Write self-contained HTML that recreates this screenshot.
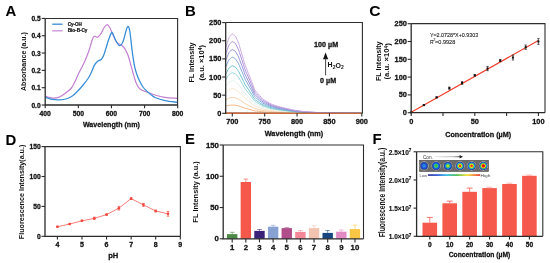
<!DOCTYPE html><html><head><meta charset="utf-8"><style>html,body{margin:0;padding:0;background:#fff;width:550px;height:263px;overflow:hidden}svg{display:block;will-change:transform}</style></head><body><svg width="550" height="263" viewBox="0 0 550 263" font-family="Liberation Sans, sans-serif">
<rect width="550" height="263" fill="#fff"/>
<text transform="translate(5.60,15.80) scale(1.050,1)" font-size="14.2" font-weight="bold" fill="#000" stroke="#000" stroke-width="0.05">A</text>
<g clip-path="none">
<path d="M45.60,96.30 C46.33,96.52 48.43,97.30 50.00,97.60 C51.57,97.90 53.33,98.23 55.00,98.10 C56.67,97.97 58.33,97.57 60.00,96.80 C61.67,96.03 63.10,94.97 65.00,93.50 C66.90,92.03 69.68,90.08 71.40,88.00 C73.12,85.92 74.03,83.53 75.30,81.00 C76.57,78.47 77.43,76.07 79.00,72.80 C80.57,69.53 83.00,65.20 84.70,61.40 C86.40,57.60 88.03,53.32 89.20,50.00 C90.37,46.68 90.95,43.73 91.70,41.50 C92.45,39.27 92.98,37.42 93.70,36.60 C94.42,35.78 95.28,36.52 96.00,36.60 C96.72,36.68 97.17,37.62 98.00,37.10 C98.83,36.58 99.92,35.18 101.00,33.50 C102.08,31.82 103.43,28.48 104.50,27.00 C105.57,25.52 106.48,24.43 107.40,24.60 C108.32,24.77 109.15,26.48 110.00,28.00 C110.85,29.52 111.37,31.32 112.50,33.70 C113.63,36.08 115.38,40.45 116.80,42.30 C118.22,44.15 119.88,44.02 121.00,44.80 C122.12,45.58 122.73,46.13 123.50,47.00 C124.27,47.87 124.80,48.50 125.60,50.00 C126.40,51.50 127.43,53.50 128.30,56.00 C129.17,58.50 129.98,62.08 130.80,65.00 C131.62,67.92 132.37,70.67 133.20,73.50 C134.03,76.33 134.92,79.70 135.80,82.00 C136.68,84.30 137.47,85.93 138.50,87.30 C139.53,88.67 140.52,89.38 142.00,90.20 C143.48,91.02 145.23,91.40 147.40,92.20 C149.57,93.00 152.07,94.15 155.00,95.00 C157.93,95.85 161.30,96.75 165.00,97.30 C168.70,97.85 175.17,98.13 177.20,98.30" fill="none" stroke="#c47fd1" stroke-width="1.2"/>
<path d="M45.60,97.30 C46.33,97.55 48.43,98.42 50.00,98.80 C51.57,99.18 53.30,99.42 55.00,99.60 C56.70,99.78 58.37,100.00 60.20,99.90 C62.03,99.80 63.98,99.65 66.00,99.00 C68.02,98.35 70.47,97.20 72.30,96.00 C74.13,94.80 75.33,93.47 77.00,91.80 C78.67,90.13 80.40,88.30 82.30,86.00 C84.20,83.70 86.87,80.33 88.40,78.00 C89.93,75.67 90.50,74.15 91.50,72.00 C92.50,69.85 93.40,66.85 94.40,65.10 C95.40,63.35 96.33,62.48 97.50,61.50 C98.67,60.52 100.35,60.28 101.40,59.20 C102.45,58.12 103.08,56.68 103.80,55.00 C104.52,53.32 104.92,51.60 105.70,49.10 C106.48,46.60 107.50,42.75 108.50,40.00 C109.50,37.25 110.78,33.18 111.70,32.60 C112.62,32.02 113.28,35.10 114.00,36.50 C114.72,37.90 115.12,39.48 116.00,41.00 C116.88,42.52 118.33,45.10 119.30,45.60 C120.27,46.10 121.03,45.10 121.80,44.00 C122.57,42.90 123.20,41.17 123.90,39.00 C124.60,36.83 125.33,33.08 126.00,31.00 C126.67,28.92 127.27,26.50 127.90,26.50 C128.53,26.50 129.10,27.02 129.80,31.00 C130.50,34.98 131.33,44.63 132.10,50.40 C132.87,56.17 133.62,61.63 134.40,65.60 C135.18,69.57 135.93,71.63 136.80,74.20 C137.67,76.77 138.57,78.87 139.60,81.00 C140.63,83.13 141.85,85.35 143.00,87.00 C144.15,88.65 145.17,89.62 146.50,90.90 C147.83,92.18 149.58,93.60 151.00,94.70 C152.42,95.80 152.67,96.52 155.00,97.50 C157.33,98.48 161.30,99.80 165.00,100.60 C168.70,101.40 175.17,102.02 177.20,102.30" fill="none" stroke="#3a8fd8" stroke-width="1.3"/>
</g>
<path d="M45.20,18.50 H177.60 V105.00" fill="none" stroke="#2e2e2e" stroke-width="1.10"/>
<path d="M45.20,18.50 V105.00 H177.60" fill="none" stroke="#2b2b2b" stroke-width="1.30"/>
<line x1="41.70" y1="105.00" x2="45.20" y2="105.00" stroke="#2b2b2b" stroke-width="1.1"/>
<text x="40.60" y="105.00" font-size="6.60" font-weight="bold" text-anchor="end" dominant-baseline="central" fill="#111"  stroke="#111" stroke-width="0.28">0.0</text>
<line x1="41.70" y1="87.68" x2="45.20" y2="87.68" stroke="#2b2b2b" stroke-width="1.1"/>
<text x="40.60" y="87.68" font-size="6.60" font-weight="bold" text-anchor="end" dominant-baseline="central" fill="#111"  stroke="#111" stroke-width="0.28">0.1</text>
<line x1="41.70" y1="70.36" x2="45.20" y2="70.36" stroke="#2b2b2b" stroke-width="1.1"/>
<text x="40.60" y="70.36" font-size="6.60" font-weight="bold" text-anchor="end" dominant-baseline="central" fill="#111"  stroke="#111" stroke-width="0.28">0.2</text>
<line x1="41.70" y1="53.04" x2="45.20" y2="53.04" stroke="#2b2b2b" stroke-width="1.1"/>
<text x="40.60" y="53.04" font-size="6.60" font-weight="bold" text-anchor="end" dominant-baseline="central" fill="#111"  stroke="#111" stroke-width="0.28">0.3</text>
<line x1="41.70" y1="35.72" x2="45.20" y2="35.72" stroke="#2b2b2b" stroke-width="1.1"/>
<text x="40.60" y="35.72" font-size="6.60" font-weight="bold" text-anchor="end" dominant-baseline="central" fill="#111"  stroke="#111" stroke-width="0.28">0.4</text>
<line x1="41.70" y1="18.40" x2="45.20" y2="18.40" stroke="#2b2b2b" stroke-width="1.1"/>
<text x="40.60" y="18.40" font-size="6.60" font-weight="bold" text-anchor="end" dominant-baseline="central" fill="#111"  stroke="#111" stroke-width="0.28">0.5</text>
<line x1="45.20" y1="105.00" x2="45.20" y2="108.30" stroke="#2b2b2b" stroke-width="1.1"/>
<text x="45.20" y="113.30" font-size="6.80" font-weight="bold" text-anchor="middle" dominant-baseline="central" fill="#111"  stroke="#111" stroke-width="0.28">400</text>
<line x1="78.33" y1="105.00" x2="78.33" y2="108.30" stroke="#2b2b2b" stroke-width="1.1"/>
<text x="78.33" y="113.30" font-size="6.80" font-weight="bold" text-anchor="middle" dominant-baseline="central" fill="#111"  stroke="#111" stroke-width="0.28">500</text>
<line x1="111.45" y1="105.00" x2="111.45" y2="108.30" stroke="#2b2b2b" stroke-width="1.1"/>
<text x="111.45" y="113.30" font-size="6.80" font-weight="bold" text-anchor="middle" dominant-baseline="central" fill="#111"  stroke="#111" stroke-width="0.28">600</text>
<line x1="144.57" y1="105.00" x2="144.57" y2="108.30" stroke="#2b2b2b" stroke-width="1.1"/>
<text x="144.57" y="113.30" font-size="6.80" font-weight="bold" text-anchor="middle" dominant-baseline="central" fill="#111"  stroke="#111" stroke-width="0.28">700</text>
<line x1="177.70" y1="105.00" x2="177.70" y2="108.30" stroke="#2b2b2b" stroke-width="1.1"/>
<text x="177.70" y="113.30" font-size="6.80" font-weight="bold" text-anchor="middle" dominant-baseline="central" fill="#111"  stroke="#111" stroke-width="0.28">800</text>
<text transform="translate(23.40,61.60) rotate(-90)" x="0" y="0" font-size="7.60" font-weight="bold" text-anchor="middle" dominant-baseline="central" fill="#111" textLength="59.0" lengthAdjust="spacingAndGlyphs">Absorbance (a.u.)</text>
<text x="111.40" y="124.50" font-size="7.60" font-weight="bold" text-anchor="middle" dominant-baseline="central" fill="#111" textLength="57.0" lengthAdjust="spacingAndGlyphs"  stroke="#111" stroke-width="0.28">Wavelength (nm)</text>
<line x1="52.2" y1="24.2" x2="62.6" y2="24.2" stroke="#3a8ad4" stroke-width="1.3"/>
<line x1="52.2" y1="30.8" x2="62.6" y2="30.8" stroke="#c890d8" stroke-width="1.3"/>
<text x="67.70" y="24.20" font-size="4.80" font-weight="bold" text-anchor="start" dominant-baseline="central" fill="#111" textLength="14.2" lengthAdjust="spacingAndGlyphs" stroke="#111" stroke-width="0.22">Cy-OH</text>
<text x="67.70" y="30.90" font-size="4.80" font-weight="bold" text-anchor="start" dominant-baseline="central" fill="#111" textLength="19.7" lengthAdjust="spacingAndGlyphs" stroke="#111" stroke-width="0.22">Bio-B-Cy</text>
<text transform="translate(185.10,15.70) scale(1.050,1)" font-size="14.2" font-weight="bold" fill="#000" stroke="#000" stroke-width="0.05">B</text>
<defs><clipPath id="cb"><rect x="225.70" y="22.50" width="136.70" height="91.80"/></clipPath></defs>
<g clip-path="url(#cb)">
<path d="M225.70,113.06 C225.97,113.06 226.77,113.05 227.31,113.04 C227.85,113.04 228.39,113.03 228.93,113.02 C229.47,113.02 230.01,113.02 230.55,113.02 C231.09,113.01 231.63,113.01 232.17,113.01 C232.71,113.01 233.25,113.01 233.79,113.01 C234.33,113.02 234.87,113.02 235.41,113.02 C235.95,113.02 236.49,113.03 237.03,113.03 C237.57,113.04 238.11,113.04 238.65,113.04 C239.19,113.05 239.72,113.06 240.26,113.06 C240.80,113.07 241.34,113.08 241.88,113.08 C242.42,113.09 242.96,113.10 243.50,113.10 C244.04,113.11 244.58,113.12 245.12,113.12 C245.66,113.13 246.20,113.13 246.74,113.14 C247.28,113.14 247.82,113.15 248.36,113.15 C248.90,113.16 249.44,113.16 249.98,113.17 C250.52,113.17 251.06,113.18 251.60,113.18 C252.14,113.19 252.67,113.19 253.21,113.20 C253.75,113.20 254.29,113.21 254.83,113.21 C255.37,113.22 255.91,113.22 256.45,113.22 C256.99,113.22 257.53,113.23 258.07,113.23 C258.61,113.23 259.15,113.23 259.69,113.24 C260.23,113.24 260.77,113.24 261.31,113.24 C261.85,113.24 262.39,113.25 262.93,113.25 C263.47,113.25 264.01,113.25 264.55,113.25 C265.09,113.25 265.62,113.25 266.16,113.26 C266.70,113.26 267.24,113.26 267.78,113.26 C268.32,113.26 268.86,113.26 269.40,113.26 C269.94,113.26 270.48,113.26 271.02,113.27 C271.56,113.27 272.10,113.27 272.64,113.27 C273.18,113.27 273.72,113.27 274.26,113.27 C274.80,113.27 275.34,113.27 275.88,113.27 C276.42,113.27 276.96,113.27 277.50,113.27 C278.04,113.27 278.57,113.28 279.11,113.28 C279.65,113.28 280.19,113.28 280.73,113.28 C281.27,113.28 281.81,113.28 282.35,113.28 C282.89,113.28 283.43,113.28 283.97,113.28 C284.51,113.28 285.05,113.28 285.59,113.28 C286.13,113.28 286.67,113.28 287.21,113.28 C287.75,113.28 288.29,113.28 288.83,113.28 C289.37,113.28 289.91,113.29 290.45,113.29 C290.99,113.29 291.52,113.29 292.06,113.29 C292.60,113.29 293.14,113.29 293.68,113.29 C294.22,113.29 294.76,113.29 295.30,113.29 C295.84,113.29 296.38,113.29 296.92,113.29 C297.46,113.29 298.00,113.29 298.54,113.29 C299.08,113.29 299.62,113.29 300.16,113.29 C300.70,113.29 301.24,113.29 301.78,113.29 C302.32,113.29 302.86,113.29 303.40,113.29 C303.94,113.29 304.47,113.29 305.01,113.29 C305.55,113.29 306.09,113.29 306.63,113.29 C307.17,113.29 307.71,113.29 308.25,113.30 C308.79,113.30 309.33,113.30 309.87,113.30 C310.41,113.30 310.95,113.30 311.49,113.30 C312.03,113.30 312.57,113.30 313.11,113.30 C313.65,113.30 314.19,113.30 314.73,113.30 C315.27,113.30 315.81,113.30 316.35,113.30 C316.89,113.30 317.42,113.30 317.96,113.30 C318.50,113.30 319.04,113.30 319.58,113.30 C320.12,113.30 320.66,113.30 321.20,113.30 C321.74,113.30 322.28,113.30 322.82,113.30 C323.36,113.30 323.90,113.30 324.44,113.30 C324.98,113.30 325.52,113.30 326.06,113.30 C326.60,113.30 327.14,113.30 327.68,113.30 C328.22,113.30 328.76,113.30 329.30,113.30 C329.84,113.30 330.37,113.30 330.91,113.30 C331.45,113.30 331.99,113.30 332.53,113.30 C333.07,113.30 333.61,113.30 334.15,113.30 C334.69,113.30 335.23,113.30 335.77,113.30 C336.31,113.30 336.85,113.30 337.39,113.30 C337.93,113.30 338.47,113.30 339.01,113.30 C339.55,113.30 340.09,113.30 340.63,113.30 C341.17,113.30 341.71,113.30 342.25,113.30 C342.79,113.30 343.32,113.30 343.86,113.30 C344.40,113.30 344.94,113.30 345.48,113.30 C346.02,113.30 346.56,113.30 347.10,113.30 C347.64,113.30 348.18,113.30 348.72,113.30 C349.26,113.30 349.80,113.30 350.34,113.30 C350.88,113.30 351.42,113.30 351.96,113.30 C352.50,113.30 353.04,113.30 353.58,113.30 C354.12,113.30 354.66,113.30 355.20,113.30 C355.74,113.30 356.27,113.30 356.81,113.30 C357.35,113.30 357.89,113.30 358.43,113.30 C358.97,113.30 359.51,113.30 360.05,113.30 C360.59,113.30 361.40,113.30 361.67,113.30" fill="none" stroke="#d9542a" stroke-width="0.95"/>
<path d="M225.70,106.40 C225.97,106.31 226.77,106.06 227.31,105.89 C227.85,105.72 228.39,105.50 228.93,105.37 C229.47,105.25 230.01,105.23 230.55,105.16 C231.09,105.09 231.63,104.99 232.17,104.97 C232.71,104.96 233.25,105.03 233.79,105.07 C234.33,105.11 234.87,105.11 235.41,105.20 C235.95,105.28 236.49,105.44 237.03,105.57 C237.57,105.70 238.11,105.81 238.65,105.97 C239.19,106.12 239.72,106.33 240.26,106.52 C240.80,106.70 241.34,106.89 241.88,107.08 C242.42,107.27 242.96,107.47 243.50,107.66 C244.04,107.86 244.58,108.08 245.12,108.25 C245.66,108.42 246.20,108.54 246.74,108.68 C247.28,108.82 247.82,108.95 248.36,109.09 C248.90,109.24 249.44,109.38 249.98,109.52 C250.52,109.67 251.06,109.82 251.60,109.96 C252.14,110.11 252.67,110.26 253.21,110.40 C253.75,110.55 254.29,110.74 254.83,110.84 C255.37,110.95 255.91,110.99 256.45,111.06 C256.99,111.12 257.53,111.18 258.07,111.25 C258.61,111.31 259.15,111.37 259.69,111.44 C260.23,111.50 260.77,111.57 261.31,111.63 C261.85,111.69 262.39,111.76 262.93,111.81 C263.47,111.86 264.01,111.88 264.55,111.91 C265.09,111.94 265.62,111.98 266.16,112.01 C266.70,112.05 267.24,112.08 267.78,112.11 C268.32,112.15 268.86,112.18 269.40,112.21 C269.94,112.25 270.48,112.29 271.02,112.32 C271.56,112.34 272.10,112.36 272.64,112.38 C273.18,112.40 273.72,112.42 274.26,112.44 C274.80,112.46 275.34,112.48 275.88,112.50 C276.42,112.51 276.96,112.54 277.50,112.55 C278.04,112.57 278.57,112.59 279.11,112.60 C279.65,112.62 280.19,112.63 280.73,112.64 C281.27,112.66 281.81,112.67 282.35,112.69 C282.89,112.70 283.43,112.71 283.97,112.73 C284.51,112.74 285.05,112.75 285.59,112.77 C286.13,112.78 286.67,112.79 287.21,112.81 C287.75,112.82 288.29,112.83 288.83,112.85 C289.37,112.86 289.91,112.88 290.45,112.89 C290.99,112.90 291.52,112.92 292.06,112.93 C292.60,112.94 293.14,112.96 293.68,112.97 C294.22,112.98 294.76,112.98 295.30,112.99 C295.84,113.00 296.38,113.01 296.92,113.01 C297.46,113.02 298.00,113.03 298.54,113.04 C299.08,113.05 299.62,113.05 300.16,113.06 C300.70,113.07 301.24,113.08 301.78,113.09 C302.32,113.09 302.86,113.10 303.40,113.11 C303.94,113.12 304.47,113.13 305.01,113.13 C305.55,113.14 306.09,113.14 306.63,113.15 C307.17,113.15 307.71,113.16 308.25,113.16 C308.79,113.16 309.33,113.17 309.87,113.17 C310.41,113.17 310.95,113.18 311.49,113.18 C312.03,113.18 312.57,113.19 313.11,113.19 C313.65,113.19 314.19,113.20 314.73,113.20 C315.27,113.20 315.81,113.21 316.35,113.21 C316.89,113.21 317.42,113.22 317.96,113.22 C318.50,113.22 319.04,113.23 319.58,113.23 C320.12,113.23 320.66,113.24 321.20,113.24 C321.74,113.24 322.28,113.25 322.82,113.25 C323.36,113.25 323.90,113.25 324.44,113.25 C324.98,113.25 325.52,113.25 326.06,113.26 C326.60,113.26 327.14,113.26 327.68,113.26 C328.22,113.26 328.76,113.26 329.30,113.26 C329.84,113.26 330.37,113.26 330.91,113.27 C331.45,113.27 331.99,113.27 332.53,113.27 C333.07,113.27 333.61,113.27 334.15,113.27 C334.69,113.27 335.23,113.27 335.77,113.27 C336.31,113.28 336.85,113.28 337.39,113.28 C337.93,113.28 338.47,113.28 339.01,113.28 C339.55,113.28 340.09,113.28 340.63,113.28 C341.17,113.29 341.71,113.29 342.25,113.29 C342.79,113.29 343.32,113.29 343.86,113.29 C344.40,113.29 344.94,113.29 345.48,113.29 C346.02,113.29 346.56,113.29 347.10,113.29 C347.64,113.29 348.18,113.29 348.72,113.29 C349.26,113.29 349.80,113.29 350.34,113.29 C350.88,113.29 351.42,113.29 351.96,113.29 C352.50,113.29 353.04,113.29 353.58,113.29 C354.12,113.30 354.66,113.30 355.20,113.30 C355.74,113.30 356.27,113.30 356.81,113.30 C357.35,113.30 357.89,113.30 358.43,113.30 C358.97,113.30 359.51,113.30 360.05,113.30 C360.59,113.30 361.40,113.30 361.67,113.30" fill="none" stroke="#f4b27e" stroke-width="0.95"/>
<path d="M225.70,100.09 C225.97,99.93 226.77,99.46 227.31,99.13 C227.85,98.81 228.39,98.37 228.93,98.13 C229.47,97.90 230.01,97.85 230.55,97.72 C231.09,97.60 231.63,97.39 232.17,97.37 C232.71,97.34 233.25,97.49 233.79,97.56 C234.33,97.63 234.87,97.64 235.41,97.80 C235.95,97.96 236.49,98.27 237.03,98.51 C237.57,98.76 238.11,98.97 238.65,99.27 C239.19,99.57 239.72,99.97 240.26,100.32 C240.80,100.68 241.34,101.04 241.88,101.40 C242.42,101.77 242.96,102.14 243.50,102.52 C244.04,102.89 244.58,103.31 245.12,103.63 C245.66,103.96 246.20,104.19 246.74,104.46 C247.28,104.73 247.82,104.98 248.36,105.25 C248.90,105.52 249.44,105.80 249.98,106.08 C250.52,106.35 251.06,106.64 251.60,106.92 C252.14,107.20 252.67,107.48 253.21,107.76 C253.75,108.04 254.29,108.40 254.83,108.60 C255.37,108.81 255.91,108.88 256.45,109.01 C256.99,109.14 257.53,109.25 258.07,109.37 C258.61,109.49 259.15,109.62 259.69,109.74 C260.23,109.86 260.77,109.99 261.31,110.10 C261.85,110.22 262.39,110.36 262.93,110.45 C263.47,110.54 264.01,110.58 264.55,110.64 C265.09,110.71 265.62,110.77 266.16,110.84 C266.70,110.90 267.24,110.97 267.78,111.03 C268.32,111.09 268.86,111.16 269.40,111.22 C269.94,111.29 270.48,111.36 271.02,111.42 C271.56,111.47 272.10,111.50 272.64,111.54 C273.18,111.57 273.72,111.61 274.26,111.65 C274.80,111.69 275.34,111.72 275.88,111.76 C276.42,111.80 276.96,111.84 277.50,111.87 C278.04,111.91 278.57,111.94 279.11,111.97 C279.65,112.00 280.19,112.02 280.73,112.05 C281.27,112.07 281.81,112.10 282.35,112.12 C282.89,112.15 283.43,112.18 283.97,112.20 C284.51,112.23 285.05,112.25 285.59,112.28 C286.13,112.31 286.67,112.33 287.21,112.36 C287.75,112.38 288.29,112.41 288.83,112.44 C289.37,112.46 289.91,112.49 290.45,112.51 C290.99,112.54 291.52,112.57 292.06,112.59 C292.60,112.62 293.14,112.64 293.68,112.66 C294.22,112.68 294.76,112.69 295.30,112.71 C295.84,112.72 296.38,112.74 296.92,112.75 C297.46,112.77 298.00,112.78 298.54,112.80 C299.08,112.81 299.62,112.83 300.16,112.85 C300.70,112.86 301.24,112.88 301.78,112.89 C302.32,112.91 302.86,112.92 303.40,112.94 C303.94,112.95 304.47,112.97 305.01,112.98 C305.55,113.00 306.09,113.00 306.63,113.01 C307.17,113.02 307.71,113.02 308.25,113.03 C308.79,113.04 309.33,113.04 309.87,113.05 C310.41,113.06 310.95,113.06 311.49,113.07 C312.03,113.07 312.57,113.08 313.11,113.09 C313.65,113.09 314.19,113.10 314.73,113.11 C315.27,113.11 315.81,113.12 316.35,113.13 C316.89,113.13 317.42,113.14 317.96,113.15 C318.50,113.15 319.04,113.16 319.58,113.16 C320.12,113.17 320.66,113.18 321.20,113.18 C321.74,113.19 322.28,113.20 322.82,113.20 C323.36,113.21 323.90,113.21 324.44,113.21 C324.98,113.21 325.52,113.21 326.06,113.22 C326.60,113.22 327.14,113.22 327.68,113.22 C328.22,113.22 328.76,113.23 329.30,113.23 C329.84,113.23 330.37,113.23 330.91,113.23 C331.45,113.24 331.99,113.24 332.53,113.24 C333.07,113.24 333.61,113.24 334.15,113.25 C334.69,113.25 335.23,113.25 335.77,113.25 C336.31,113.25 336.85,113.26 337.39,113.26 C337.93,113.26 338.47,113.26 339.01,113.26 C339.55,113.27 340.09,113.27 340.63,113.27 C341.17,113.27 341.71,113.27 342.25,113.28 C342.79,113.28 343.32,113.28 343.86,113.28 C344.40,113.28 344.94,113.28 345.48,113.28 C346.02,113.28 346.56,113.28 347.10,113.28 C347.64,113.28 348.18,113.28 348.72,113.28 C349.26,113.28 349.80,113.29 350.34,113.29 C350.88,113.29 351.42,113.29 351.96,113.29 C352.50,113.29 353.04,113.29 353.58,113.29 C354.12,113.29 354.66,113.29 355.20,113.29 C355.74,113.29 356.27,113.29 356.81,113.29 C357.35,113.29 357.89,113.30 358.43,113.30 C358.97,113.30 359.51,113.30 360.05,113.30 C360.59,113.30 361.40,113.30 361.67,113.30" fill="none" stroke="#f8cfa4" stroke-width="0.95"/>
<path d="M225.70,92.89 C225.97,92.64 226.77,91.91 227.31,91.41 C227.85,90.90 228.39,90.23 228.93,89.86 C229.47,89.50 230.01,89.43 230.55,89.23 C231.09,89.03 231.63,88.72 232.17,88.67 C232.71,88.63 233.25,88.86 233.79,88.97 C234.33,89.08 234.87,89.09 235.41,89.34 C235.95,89.59 236.49,90.07 237.03,90.45 C237.57,90.83 238.11,91.15 238.65,91.62 C239.19,92.09 239.72,92.70 240.26,93.25 C240.80,93.79 241.34,94.35 241.88,94.91 C242.42,95.48 242.96,96.06 243.50,96.63 C244.04,97.21 244.58,97.86 245.12,98.36 C245.66,98.86 246.20,99.21 246.74,99.63 C247.28,100.05 247.82,100.45 248.36,100.87 C248.90,101.28 249.44,101.71 249.98,102.14 C250.52,102.56 251.06,103.00 251.60,103.44 C252.14,103.87 252.67,104.31 253.21,104.74 C253.75,105.17 254.29,105.72 254.83,106.04 C255.37,106.36 255.91,106.47 256.45,106.67 C256.99,106.86 257.53,107.04 258.07,107.23 C258.61,107.42 259.15,107.61 259.69,107.80 C260.23,107.98 260.77,108.18 261.31,108.36 C261.85,108.54 262.39,108.76 262.93,108.90 C263.47,109.03 264.01,109.09 264.55,109.19 C265.09,109.29 265.62,109.39 266.16,109.49 C266.70,109.59 267.24,109.69 267.78,109.79 C268.32,109.89 268.86,109.99 269.40,110.09 C269.94,110.19 270.48,110.31 271.02,110.39 C271.56,110.47 272.10,110.51 272.64,110.57 C273.18,110.63 273.72,110.69 274.26,110.75 C274.80,110.81 275.34,110.86 275.88,110.92 C276.42,110.98 276.96,111.04 277.50,111.09 C278.04,111.15 278.57,111.20 279.11,111.24 C279.65,111.29 280.19,111.32 280.73,111.36 C281.27,111.40 281.81,111.44 282.35,111.48 C282.89,111.52 283.43,111.56 283.97,111.60 C284.51,111.64 285.05,111.68 285.59,111.72 C286.13,111.76 286.67,111.80 287.21,111.84 C287.75,111.88 288.29,111.92 288.83,111.97 C289.37,112.01 289.91,112.05 290.45,112.09 C290.99,112.13 291.52,112.17 292.06,112.21 C292.60,112.24 293.14,112.28 293.68,112.31 C294.22,112.34 294.76,112.36 295.30,112.38 C295.84,112.41 296.38,112.43 296.92,112.45 C297.46,112.48 298.00,112.50 298.54,112.53 C299.08,112.55 299.62,112.57 300.16,112.60 C300.70,112.62 301.24,112.64 301.78,112.67 C302.32,112.69 302.86,112.72 303.40,112.74 C303.94,112.76 304.47,112.79 305.01,112.81 C305.55,112.83 306.09,112.84 306.63,112.85 C307.17,112.86 307.71,112.87 308.25,112.88 C308.79,112.89 309.33,112.90 309.87,112.91 C310.41,112.92 310.95,112.93 311.49,112.94 C312.03,112.95 312.57,112.96 313.11,112.97 C313.65,112.98 314.19,112.99 314.73,113.00 C315.27,113.01 315.81,113.02 316.35,113.03 C316.89,113.04 317.42,113.05 317.96,113.06 C318.50,113.07 319.04,113.08 319.58,113.09 C320.12,113.10 320.66,113.11 321.20,113.12 C321.74,113.13 322.28,113.14 322.82,113.15 C323.36,113.16 323.90,113.16 324.44,113.16 C324.98,113.16 325.52,113.17 326.06,113.17 C326.60,113.17 327.14,113.18 327.68,113.18 C328.22,113.18 328.76,113.19 329.30,113.19 C329.84,113.19 330.37,113.19 330.91,113.20 C331.45,113.20 331.99,113.20 332.53,113.21 C333.07,113.21 333.61,113.21 334.15,113.22 C334.69,113.22 335.23,113.22 335.77,113.23 C336.31,113.23 336.85,113.23 337.39,113.23 C337.93,113.24 338.47,113.24 339.01,113.24 C339.55,113.25 340.09,113.25 340.63,113.25 C341.17,113.26 341.71,113.26 342.25,113.26 C342.79,113.26 343.32,113.26 343.86,113.27 C344.40,113.27 344.94,113.27 345.48,113.27 C346.02,113.27 346.56,113.27 347.10,113.27 C347.64,113.27 348.18,113.27 348.72,113.28 C349.26,113.28 349.80,113.28 350.34,113.28 C350.88,113.28 351.42,113.28 351.96,113.28 C352.50,113.28 353.04,113.28 353.58,113.28 C354.12,113.29 354.66,113.29 355.20,113.29 C355.74,113.29 356.27,113.29 356.81,113.29 C357.35,113.29 357.89,113.29 358.43,113.29 C358.97,113.29 359.51,113.30 360.05,113.30 C360.59,113.30 361.40,113.30 361.67,113.30" fill="none" stroke="#f4e6cc" stroke-width="0.95"/>
<path d="M225.70,86.28 C225.97,85.96 226.77,84.99 227.31,84.32 C227.85,83.65 228.39,82.76 228.93,82.28 C229.47,81.80 230.01,81.70 230.55,81.44 C231.09,81.18 231.63,80.76 232.17,80.71 C232.71,80.65 233.25,80.95 233.79,81.10 C234.33,81.25 234.87,81.26 235.41,81.59 C235.95,81.91 236.49,82.55 237.03,83.05 C237.57,83.56 238.11,83.99 238.65,84.61 C239.19,85.22 239.72,86.03 240.26,86.76 C240.80,87.48 241.34,88.21 241.88,88.96 C242.42,89.71 242.96,90.48 243.50,91.24 C244.04,92.00 244.58,92.86 245.12,93.53 C245.66,94.19 246.20,94.66 246.74,95.21 C247.28,95.76 247.82,96.29 248.36,96.84 C248.90,97.40 249.44,97.96 249.98,98.52 C250.52,99.09 251.06,99.67 251.60,100.25 C252.14,100.82 252.67,101.40 253.21,101.97 C253.75,102.54 254.29,103.27 254.83,103.69 C255.37,104.12 255.91,104.26 256.45,104.52 C256.99,104.78 257.53,105.02 258.07,105.27 C258.61,105.52 259.15,105.77 259.69,106.02 C260.23,106.27 260.77,106.52 261.31,106.76 C261.85,107.01 262.39,107.29 262.93,107.47 C263.47,107.65 264.01,107.73 264.55,107.87 C265.09,108.00 265.62,108.13 266.16,108.26 C266.70,108.39 267.24,108.53 267.78,108.66 C268.32,108.79 268.86,108.92 269.40,109.05 C269.94,109.18 270.48,109.34 271.02,109.45 C271.56,109.55 272.10,109.61 272.64,109.69 C273.18,109.77 273.72,109.84 274.26,109.92 C274.80,110.00 275.34,110.07 275.88,110.15 C276.42,110.23 276.96,110.31 277.50,110.38 C278.04,110.45 278.57,110.52 279.11,110.57 C279.65,110.63 280.19,110.68 280.73,110.73 C281.27,110.79 281.81,110.84 282.35,110.89 C282.89,110.95 283.43,111.00 283.97,111.05 C284.51,111.11 285.05,111.16 285.59,111.21 C286.13,111.27 286.67,111.32 287.21,111.37 C287.75,111.43 288.29,111.48 288.83,111.53 C289.37,111.59 289.91,111.64 290.45,111.69 C290.99,111.75 291.52,111.80 292.06,111.85 C292.60,111.90 293.14,111.95 293.68,111.99 C294.22,112.03 294.76,112.05 295.30,112.09 C295.84,112.12 296.38,112.15 296.92,112.18 C297.46,112.21 298.00,112.24 298.54,112.28 C299.08,112.31 299.62,112.34 300.16,112.37 C300.70,112.40 301.24,112.43 301.78,112.46 C302.32,112.50 302.86,112.53 303.40,112.56 C303.94,112.59 304.47,112.63 305.01,112.65 C305.55,112.68 306.09,112.69 306.63,112.71 C307.17,112.72 307.71,112.73 308.25,112.75 C308.79,112.76 309.33,112.77 309.87,112.79 C310.41,112.80 310.95,112.81 311.49,112.83 C312.03,112.84 312.57,112.85 313.11,112.87 C313.65,112.88 314.19,112.89 314.73,112.90 C315.27,112.92 315.81,112.93 316.35,112.94 C316.89,112.96 317.42,112.97 317.96,112.98 C318.50,113.00 319.04,113.01 319.58,113.02 C320.12,113.04 320.66,113.05 321.20,113.06 C321.74,113.07 322.28,113.09 322.82,113.10 C323.36,113.11 323.90,113.11 324.44,113.12 C324.98,113.12 325.52,113.12 326.06,113.13 C326.60,113.13 327.14,113.14 327.68,113.14 C328.22,113.14 328.76,113.15 329.30,113.15 C329.84,113.16 330.37,113.16 330.91,113.16 C331.45,113.17 331.99,113.17 332.53,113.18 C333.07,113.18 333.61,113.18 334.15,113.19 C334.69,113.19 335.23,113.20 335.77,113.20 C336.31,113.21 336.85,113.21 337.39,113.21 C337.93,113.22 338.47,113.22 339.01,113.23 C339.55,113.23 340.09,113.23 340.63,113.24 C341.17,113.24 341.71,113.25 342.25,113.25 C342.79,113.25 343.32,113.25 343.86,113.25 C344.40,113.26 344.94,113.26 345.48,113.26 C346.02,113.26 346.56,113.26 347.10,113.26 C347.64,113.26 348.18,113.27 348.72,113.27 C349.26,113.27 349.80,113.27 350.34,113.27 C350.88,113.27 351.42,113.27 351.96,113.28 C352.50,113.28 353.04,113.28 353.58,113.28 C354.12,113.28 354.66,113.28 355.20,113.28 C355.74,113.28 356.27,113.29 356.81,113.29 C357.35,113.29 357.89,113.29 358.43,113.29 C358.97,113.29 359.51,113.29 360.05,113.30 C360.59,113.30 361.40,113.30 361.67,113.30" fill="none" stroke="#e2f0ee" stroke-width="0.95"/>
<path d="M225.70,79.68 C225.97,79.27 226.77,78.07 227.31,77.24 C227.85,76.41 228.39,75.30 228.93,74.70 C229.47,74.10 230.01,73.98 230.55,73.65 C231.09,73.33 231.63,72.81 232.17,72.74 C232.71,72.67 233.25,73.04 233.79,73.23 C234.33,73.41 234.87,73.43 235.41,73.84 C235.95,74.24 236.49,75.04 237.03,75.66 C237.57,76.29 238.11,76.82 238.65,77.59 C239.19,78.36 239.72,79.37 240.26,80.27 C240.80,81.17 241.34,82.08 241.88,83.01 C242.42,83.94 242.96,84.90 243.50,85.85 C244.04,86.79 244.58,87.87 245.12,88.69 C245.66,89.52 246.20,90.10 246.74,90.79 C247.28,91.48 247.82,92.13 248.36,92.82 C248.90,93.51 249.44,94.21 249.98,94.91 C250.52,95.62 251.06,96.34 251.60,97.06 C252.14,97.77 252.67,98.49 253.21,99.20 C253.75,99.91 254.29,100.82 254.83,101.34 C255.37,101.87 255.91,102.05 256.45,102.37 C256.99,102.70 257.53,102.99 258.07,103.30 C258.61,103.61 259.15,103.92 259.69,104.24 C260.23,104.55 260.77,104.86 261.31,105.17 C261.85,105.47 262.39,105.82 262.93,106.05 C263.47,106.27 264.01,106.37 264.55,106.54 C265.09,106.70 265.62,106.87 266.16,107.03 C266.70,107.19 267.24,107.36 267.78,107.52 C268.32,107.69 268.86,107.85 269.40,108.01 C269.94,108.18 270.48,108.37 271.02,108.51 C271.56,108.64 272.10,108.71 272.64,108.81 C273.18,108.91 273.72,109.00 274.26,109.10 C274.80,109.19 275.34,109.29 275.88,109.38 C276.42,109.48 276.96,109.58 277.50,109.67 C278.04,109.76 278.57,109.84 279.11,109.91 C279.65,109.98 280.19,110.04 280.73,110.11 C281.27,110.17 281.81,110.24 282.35,110.31 C282.89,110.37 283.43,110.44 283.97,110.51 C284.51,110.57 285.05,110.64 285.59,110.70 C286.13,110.77 286.67,110.84 287.21,110.90 C287.75,110.97 288.29,111.04 288.83,111.10 C289.37,111.17 289.91,111.23 290.45,111.30 C290.99,111.37 291.52,111.44 292.06,111.50 C292.60,111.56 293.14,111.62 293.68,111.67 C294.22,111.72 294.76,111.75 295.30,111.79 C295.84,111.83 296.38,111.87 296.92,111.91 C297.46,111.95 298.00,111.99 298.54,112.02 C299.08,112.06 299.62,112.10 300.16,112.14 C300.70,112.18 301.24,112.22 301.78,112.26 C302.32,112.30 302.86,112.34 303.40,112.38 C303.94,112.42 304.47,112.46 305.01,112.50 C305.55,112.53 306.09,112.54 306.63,112.56 C307.17,112.58 307.71,112.60 308.25,112.61 C308.79,112.63 309.33,112.64 309.87,112.66 C310.41,112.68 310.95,112.69 311.49,112.71 C312.03,112.73 312.57,112.74 313.11,112.76 C313.65,112.78 314.19,112.79 314.73,112.81 C315.27,112.82 315.81,112.84 316.35,112.86 C316.89,112.87 317.42,112.89 317.96,112.91 C318.50,112.92 319.04,112.94 319.58,112.95 C320.12,112.97 320.66,112.99 321.20,113.00 C321.74,113.02 322.28,113.04 322.82,113.05 C323.36,113.06 323.90,113.06 324.44,113.07 C324.98,113.08 325.52,113.08 326.06,113.09 C326.60,113.09 327.14,113.10 327.68,113.10 C328.22,113.11 328.76,113.11 329.30,113.12 C329.84,113.12 330.37,113.13 330.91,113.13 C331.45,113.14 331.99,113.14 332.53,113.15 C333.07,113.15 333.61,113.16 334.15,113.16 C334.69,113.17 335.23,113.17 335.77,113.18 C336.31,113.18 336.85,113.19 337.39,113.19 C337.93,113.20 338.47,113.20 339.01,113.21 C339.55,113.21 340.09,113.22 340.63,113.22 C341.17,113.23 341.71,113.23 342.25,113.24 C342.79,113.24 343.32,113.24 343.86,113.24 C344.40,113.25 344.94,113.25 345.48,113.25 C346.02,113.25 346.56,113.25 347.10,113.25 C347.64,113.26 348.18,113.26 348.72,113.26 C349.26,113.26 349.80,113.26 350.34,113.26 C350.88,113.27 351.42,113.27 351.96,113.27 C352.50,113.27 353.04,113.27 353.58,113.27 C354.12,113.28 354.66,113.28 355.20,113.28 C355.74,113.28 356.27,113.28 356.81,113.28 C357.35,113.29 357.89,113.29 358.43,113.29 C358.97,113.29 359.51,113.29 360.05,113.29 C360.59,113.30 361.40,113.30 361.67,113.30" fill="none" stroke="#90d2d4" stroke-width="0.95"/>
<path d="M225.70,73.98 C225.97,73.50 226.77,72.09 227.31,71.12 C227.85,70.15 228.39,68.85 228.93,68.15 C229.47,67.45 230.01,67.31 230.55,66.93 C231.09,66.55 231.63,65.94 232.17,65.86 C232.71,65.78 233.25,66.22 233.79,66.43 C234.33,66.64 234.87,66.67 235.41,67.14 C235.95,67.62 236.49,68.54 237.03,69.28 C237.57,70.01 238.11,70.64 238.65,71.53 C239.19,72.43 239.72,73.61 240.26,74.67 C240.80,75.72 241.34,76.79 241.88,77.87 C242.42,78.96 242.96,80.08 243.50,81.19 C244.04,82.30 244.58,83.55 245.12,84.52 C245.66,85.48 246.20,86.17 246.74,86.97 C247.28,87.77 247.82,88.54 248.36,89.35 C248.90,90.15 249.44,90.97 249.98,91.79 C250.52,92.62 251.06,93.46 251.60,94.30 C252.14,95.14 252.67,95.97 253.21,96.81 C253.75,97.64 254.29,98.70 254.83,99.32 C255.37,99.94 255.91,100.14 256.45,100.52 C256.99,100.90 257.53,101.25 258.07,101.61 C258.61,101.97 259.15,102.33 259.69,102.70 C260.23,103.06 260.77,103.43 261.31,103.79 C261.85,104.14 262.39,104.55 262.93,104.81 C263.47,105.08 264.01,105.20 264.55,105.39 C265.09,105.58 265.62,105.77 266.16,105.97 C266.70,106.16 267.24,106.35 267.78,106.54 C268.32,106.73 268.86,106.93 269.40,107.12 C269.94,107.31 270.48,107.54 271.02,107.69 C271.56,107.85 272.10,107.93 272.64,108.05 C273.18,108.16 273.72,108.27 274.26,108.38 C274.80,108.49 275.34,108.61 275.88,108.72 C276.42,108.83 276.96,108.95 277.50,109.05 C278.04,109.15 278.57,109.25 279.11,109.33 C279.65,109.42 280.19,109.49 280.73,109.57 C281.27,109.64 281.81,109.72 282.35,109.80 C282.89,109.88 283.43,109.95 283.97,110.03 C284.51,110.11 285.05,110.19 285.59,110.26 C286.13,110.34 286.67,110.42 287.21,110.50 C287.75,110.57 288.29,110.65 288.83,110.73 C289.37,110.81 289.91,110.88 290.45,110.96 C290.99,111.04 291.52,111.12 292.06,111.19 C292.60,111.27 293.14,111.34 293.68,111.40 C294.22,111.45 294.76,111.49 295.30,111.53 C295.84,111.58 296.38,111.62 296.92,111.67 C297.46,111.72 298.00,111.76 298.54,111.81 C299.08,111.85 299.62,111.90 300.16,111.95 C300.70,111.99 301.24,112.04 301.78,112.08 C302.32,112.13 302.86,112.18 303.40,112.22 C303.94,112.27 304.47,112.32 305.01,112.36 C305.55,112.39 306.09,112.42 306.63,112.44 C307.17,112.46 307.71,112.48 308.25,112.50 C308.79,112.51 309.33,112.53 309.87,112.55 C310.41,112.57 310.95,112.59 311.49,112.61 C312.03,112.63 312.57,112.65 313.11,112.67 C313.65,112.69 314.19,112.71 314.73,112.72 C315.27,112.74 315.81,112.76 316.35,112.78 C316.89,112.80 317.42,112.82 317.96,112.84 C318.50,112.86 319.04,112.88 319.58,112.90 C320.12,112.91 320.66,112.93 321.20,112.95 C321.74,112.97 322.28,113.00 322.82,113.01 C323.36,113.02 323.90,113.02 324.44,113.03 C324.98,113.04 325.52,113.04 326.06,113.05 C326.60,113.05 327.14,113.06 327.68,113.07 C328.22,113.07 328.76,113.08 329.30,113.08 C329.84,113.09 330.37,113.10 330.91,113.10 C331.45,113.11 331.99,113.11 332.53,113.12 C333.07,113.13 333.61,113.13 334.15,113.14 C334.69,113.14 335.23,113.15 335.77,113.16 C336.31,113.16 336.85,113.17 337.39,113.17 C337.93,113.18 338.47,113.19 339.01,113.19 C339.55,113.20 340.09,113.20 340.63,113.21 C341.17,113.22 341.71,113.22 342.25,113.23 C342.79,113.23 343.32,113.23 343.86,113.23 C344.40,113.24 344.94,113.24 345.48,113.24 C346.02,113.24 346.56,113.24 347.10,113.25 C347.64,113.25 348.18,113.25 348.72,113.25 C349.26,113.25 349.80,113.26 350.34,113.26 C350.88,113.26 351.42,113.26 351.96,113.26 C352.50,113.27 353.04,113.27 353.58,113.27 C354.12,113.27 354.66,113.27 355.20,113.28 C355.74,113.28 356.27,113.28 356.81,113.28 C357.35,113.28 357.89,113.29 358.43,113.29 C358.97,113.29 359.51,113.29 360.05,113.29 C360.59,113.30 361.40,113.30 361.67,113.30" fill="none" stroke="#62bfc8" stroke-width="0.95"/>
<path d="M225.70,66.77 C225.97,66.21 226.77,64.54 227.31,63.39 C227.85,62.24 228.39,60.70 228.93,59.88 C229.47,59.05 230.01,58.88 230.55,58.43 C231.09,57.98 231.63,57.27 232.17,57.17 C232.71,57.07 233.25,57.59 233.79,57.84 C234.33,58.10 234.87,58.12 235.41,58.69 C235.95,59.25 236.49,60.34 237.03,61.21 C237.57,62.08 238.11,62.82 238.65,63.88 C239.19,64.94 239.72,66.34 240.26,67.59 C240.80,68.84 241.34,70.10 241.88,71.38 C242.42,72.67 242.96,74.00 243.50,75.31 C244.04,76.62 244.58,78.11 245.12,79.24 C245.66,80.38 246.20,81.19 246.74,82.15 C247.28,83.10 247.82,84.01 248.36,84.96 C248.90,85.91 249.44,86.87 249.98,87.85 C250.52,88.83 251.06,89.83 251.60,90.82 C252.14,91.81 252.67,92.80 253.21,93.79 C253.75,94.78 254.29,96.02 254.83,96.75 C255.37,97.49 255.91,97.73 256.45,98.18 C256.99,98.63 257.53,99.04 258.07,99.47 C258.61,99.90 259.15,100.33 259.69,100.76 C260.23,101.18 260.77,101.63 261.31,102.04 C261.85,102.46 262.39,102.94 262.93,103.26 C263.47,103.58 264.01,103.71 264.55,103.94 C265.09,104.17 265.62,104.40 266.16,104.62 C266.70,104.85 267.24,105.08 267.78,105.30 C268.32,105.53 268.86,105.76 269.40,105.98 C269.94,106.21 270.48,106.48 271.02,106.67 C271.56,106.85 272.10,106.95 272.64,107.09 C273.18,107.22 273.72,107.35 274.26,107.48 C274.80,107.61 275.34,107.75 275.88,107.88 C276.42,108.01 276.96,108.15 277.50,108.27 C278.04,108.40 278.57,108.51 279.11,108.61 C279.65,108.71 280.19,108.79 280.73,108.88 C281.27,108.97 281.81,109.07 282.35,109.16 C282.89,109.25 283.43,109.34 283.97,109.43 C284.51,109.52 285.05,109.62 285.59,109.71 C286.13,109.80 286.67,109.89 287.21,109.98 C287.75,110.07 288.29,110.17 288.83,110.26 C289.37,110.35 289.91,110.44 290.45,110.53 C290.99,110.62 291.52,110.72 292.06,110.81 C292.60,110.89 293.14,110.98 293.68,111.05 C294.22,111.11 294.76,111.16 295.30,111.21 C295.84,111.26 296.38,111.32 296.92,111.37 C297.46,111.43 298.00,111.48 298.54,111.53 C299.08,111.59 299.62,111.64 300.16,111.70 C300.70,111.75 301.24,111.81 301.78,111.86 C302.32,111.91 302.86,111.97 303.40,112.02 C303.94,112.08 304.47,112.14 305.01,112.19 C305.55,112.23 306.09,112.25 306.63,112.28 C307.17,112.31 307.71,112.33 308.25,112.35 C308.79,112.37 309.33,112.39 309.87,112.42 C310.41,112.44 310.95,112.46 311.49,112.48 C312.03,112.51 312.57,112.53 313.11,112.55 C313.65,112.57 314.19,112.60 314.73,112.62 C315.27,112.64 315.81,112.66 316.35,112.69 C316.89,112.71 317.42,112.73 317.96,112.75 C318.50,112.78 319.04,112.80 319.58,112.82 C320.12,112.84 320.66,112.87 321.20,112.89 C321.74,112.91 322.28,112.94 322.82,112.96 C323.36,112.97 323.90,112.97 324.44,112.98 C324.98,112.99 325.52,113.00 326.06,113.00 C326.60,113.01 327.14,113.02 327.68,113.02 C328.22,113.03 328.76,113.04 329.30,113.05 C329.84,113.05 330.37,113.06 330.91,113.07 C331.45,113.07 331.99,113.08 332.53,113.09 C333.07,113.09 333.61,113.10 334.15,113.11 C334.69,113.12 335.23,113.12 335.77,113.13 C336.31,113.14 336.85,113.14 337.39,113.15 C337.93,113.16 338.47,113.16 339.01,113.17 C339.55,113.18 340.09,113.19 340.63,113.19 C341.17,113.20 341.71,113.21 342.25,113.21 C342.79,113.22 343.32,113.22 343.86,113.22 C344.40,113.22 344.94,113.23 345.48,113.23 C346.02,113.23 346.56,113.23 347.10,113.24 C347.64,113.24 348.18,113.24 348.72,113.24 C349.26,113.25 349.80,113.25 350.34,113.25 C350.88,113.25 351.42,113.25 351.96,113.26 C352.50,113.26 353.04,113.26 353.58,113.26 C354.12,113.27 354.66,113.27 355.20,113.27 C355.74,113.27 356.27,113.28 356.81,113.28 C357.35,113.28 357.89,113.28 358.43,113.29 C358.97,113.29 359.51,113.29 360.05,113.29 C360.59,113.29 361.40,113.30 361.67,113.30" fill="none" stroke="#7ea2dc" stroke-width="0.95"/>
<path d="M225.70,60.47 C225.97,59.83 226.77,57.94 227.31,56.63 C227.85,55.33 228.39,53.58 228.93,52.64 C229.47,51.70 230.01,51.51 230.55,51.00 C231.09,50.49 231.63,49.67 232.17,49.56 C232.71,49.45 233.25,50.04 233.79,50.33 C234.33,50.62 234.87,50.65 235.41,51.29 C235.95,51.92 236.49,53.17 237.03,54.15 C237.57,55.14 238.11,55.98 238.65,57.19 C239.19,58.39 239.72,59.97 240.26,61.39 C240.80,62.81 241.34,64.24 241.88,65.70 C242.42,67.17 242.96,68.67 243.50,70.16 C244.04,71.65 244.58,73.34 245.12,74.63 C245.66,75.92 246.20,76.84 246.74,77.93 C247.28,79.01 247.82,80.04 248.36,81.12 C248.90,82.20 249.44,83.29 249.98,84.40 C250.52,85.51 251.06,86.65 251.60,87.77 C252.14,88.90 252.67,90.02 253.21,91.14 C253.75,92.27 254.29,93.68 254.83,94.51 C255.37,95.34 255.91,95.62 256.45,96.13 C256.99,96.64 257.53,97.10 258.07,97.59 C258.61,98.08 259.15,98.57 259.69,99.06 C260.23,99.54 260.77,100.04 261.31,100.52 C261.85,100.99 262.39,101.54 262.93,101.90 C263.47,102.26 264.01,102.42 264.55,102.67 C265.09,102.93 265.62,103.19 266.16,103.45 C266.70,103.70 267.24,103.96 267.78,104.22 C268.32,104.48 268.86,104.74 269.40,104.99 C269.94,105.25 270.48,105.56 271.02,105.77 C271.56,105.98 272.10,106.09 272.64,106.24 C273.18,106.40 273.72,106.54 274.26,106.69 C274.80,106.84 275.34,106.99 275.88,107.14 C276.42,107.29 276.96,107.45 277.50,107.59 C278.04,107.73 278.57,107.86 279.11,107.97 C279.65,108.09 280.19,108.18 280.73,108.28 C281.27,108.39 281.81,108.49 282.35,108.60 C282.89,108.70 283.43,108.80 283.97,108.91 C284.51,109.01 285.05,109.12 285.59,109.22 C286.13,109.32 286.67,109.43 287.21,109.53 C287.75,109.64 288.29,109.74 288.83,109.85 C289.37,109.95 289.91,110.05 290.45,110.16 C290.99,110.26 291.52,110.37 292.06,110.47 C292.60,110.57 293.14,110.67 293.68,110.74 C294.22,110.82 294.76,110.86 295.30,110.93 C295.84,110.99 296.38,111.05 296.92,111.11 C297.46,111.17 298.00,111.23 298.54,111.30 C299.08,111.36 299.62,111.42 300.16,111.48 C300.70,111.54 301.24,111.60 301.78,111.67 C302.32,111.73 302.86,111.79 303.40,111.85 C303.94,111.91 304.47,111.99 305.01,112.04 C305.55,112.08 306.09,112.11 306.63,112.14 C307.17,112.17 307.71,112.19 308.25,112.22 C308.79,112.24 309.33,112.27 309.87,112.30 C310.41,112.32 310.95,112.35 311.49,112.37 C312.03,112.40 312.57,112.42 313.11,112.45 C313.65,112.48 314.19,112.50 314.73,112.53 C315.27,112.55 315.81,112.58 316.35,112.60 C316.89,112.63 317.42,112.65 317.96,112.68 C318.50,112.71 319.04,112.73 319.58,112.76 C320.12,112.78 320.66,112.81 321.20,112.83 C321.74,112.86 322.28,112.89 322.82,112.91 C323.36,112.93 323.90,112.93 324.44,112.94 C324.98,112.95 325.52,112.95 326.06,112.96 C326.60,112.97 327.14,112.98 327.68,112.99 C328.22,112.99 328.76,113.00 329.30,113.01 C329.84,113.02 330.37,113.03 330.91,113.03 C331.45,113.04 331.99,113.05 332.53,113.06 C333.07,113.07 333.61,113.07 334.15,113.08 C334.69,113.09 335.23,113.10 335.77,113.11 C336.31,113.11 336.85,113.12 337.39,113.13 C337.93,113.14 338.47,113.15 339.01,113.15 C339.55,113.16 340.09,113.17 340.63,113.18 C341.17,113.19 341.71,113.20 342.25,113.20 C342.79,113.21 343.32,113.21 343.86,113.21 C344.40,113.21 344.94,113.22 345.48,113.22 C346.02,113.22 346.56,113.22 347.10,113.23 C347.64,113.23 348.18,113.23 348.72,113.24 C349.26,113.24 349.80,113.24 350.34,113.24 C350.88,113.25 351.42,113.25 351.96,113.25 C352.50,113.25 353.04,113.26 353.58,113.26 C354.12,113.26 354.66,113.26 355.20,113.27 C355.74,113.27 356.27,113.27 356.81,113.28 C357.35,113.28 357.89,113.28 358.43,113.28 C358.97,113.29 359.51,113.29 360.05,113.29 C360.59,113.29 361.40,113.30 361.67,113.30" fill="none" stroke="#8f8cd6" stroke-width="0.95"/>
<path d="M225.70,53.86 C225.97,53.14 226.77,51.01 227.31,49.55 C227.85,48.08 228.39,46.11 228.93,45.06 C229.47,44.00 230.01,43.79 230.55,43.21 C231.09,42.63 231.63,41.72 232.17,41.59 C232.71,41.47 233.25,42.13 233.79,42.46 C234.33,42.78 234.87,42.82 235.41,43.53 C235.95,44.25 236.49,45.65 237.03,46.76 C237.57,47.87 238.11,48.81 238.65,50.17 C239.19,51.53 239.72,53.31 240.26,54.91 C240.80,56.50 241.34,58.11 241.88,59.75 C242.42,61.40 242.96,63.09 243.50,64.77 C244.04,66.44 244.58,68.34 245.12,69.80 C245.66,71.25 246.20,72.29 246.74,73.50 C247.28,74.72 247.82,75.88 248.36,77.10 C248.90,78.31 249.44,79.54 249.98,80.79 C250.52,82.04 251.06,83.32 251.60,84.58 C252.14,85.85 252.67,87.11 253.21,88.37 C253.75,89.64 254.29,91.23 254.83,92.16 C255.37,93.10 255.91,93.41 256.45,93.98 C256.99,94.56 257.53,95.08 258.07,95.63 C258.61,96.18 259.15,96.73 259.69,97.27 C260.23,97.82 260.77,98.39 261.31,98.92 C261.85,99.45 262.39,100.07 262.93,100.47 C263.47,100.88 264.01,101.05 264.55,101.34 C265.09,101.63 265.62,101.92 266.16,102.21 C266.70,102.50 267.24,102.80 267.78,103.09 C268.32,103.38 268.86,103.67 269.40,103.96 C269.94,104.25 270.48,104.59 271.02,104.83 C271.56,105.06 272.10,105.19 272.64,105.36 C273.18,105.53 273.72,105.70 274.26,105.87 C274.80,106.04 275.34,106.20 275.88,106.37 C276.42,106.54 276.96,106.72 277.50,106.88 C278.04,107.03 278.57,107.18 279.11,107.30 C279.65,107.43 280.19,107.54 280.73,107.66 C281.27,107.77 281.81,107.89 282.35,108.01 C282.89,108.12 283.43,108.24 283.97,108.36 C284.51,108.48 285.05,108.59 285.59,108.71 C286.13,108.83 286.67,108.94 287.21,109.06 C287.75,109.18 288.29,109.30 288.83,109.41 C289.37,109.53 289.91,109.65 290.45,109.76 C290.99,109.88 291.52,110.01 292.06,110.12 C292.60,110.23 293.14,110.34 293.68,110.42 C294.22,110.51 294.76,110.56 295.30,110.63 C295.84,110.70 296.38,110.77 296.92,110.84 C297.46,110.91 298.00,110.98 298.54,111.05 C299.08,111.11 299.62,111.18 300.16,111.25 C300.70,111.32 301.24,111.39 301.78,111.46 C302.32,111.53 302.86,111.60 303.40,111.67 C303.94,111.74 304.47,111.82 305.01,111.88 C305.55,111.93 306.09,111.96 306.63,112.00 C307.17,112.03 307.71,112.06 308.25,112.08 C308.79,112.11 309.33,112.14 309.87,112.17 C310.41,112.20 310.95,112.23 311.49,112.26 C312.03,112.29 312.57,112.31 313.11,112.34 C313.65,112.37 314.19,112.40 314.73,112.43 C315.27,112.46 315.81,112.49 316.35,112.52 C316.89,112.55 317.42,112.57 317.96,112.60 C318.50,112.63 319.04,112.66 319.58,112.69 C320.12,112.72 320.66,112.75 321.20,112.78 C321.74,112.80 322.28,112.84 322.82,112.86 C323.36,112.88 323.90,112.88 324.44,112.89 C324.98,112.90 325.52,112.91 326.06,112.92 C326.60,112.93 327.14,112.94 327.68,112.95 C328.22,112.96 328.76,112.97 329.30,112.97 C329.84,112.98 330.37,112.99 330.91,113.00 C331.45,113.01 331.99,113.02 332.53,113.03 C333.07,113.04 333.61,113.05 334.15,113.06 C334.69,113.06 335.23,113.07 335.77,113.08 C336.31,113.09 336.85,113.10 337.39,113.11 C337.93,113.12 338.47,113.13 339.01,113.14 C339.55,113.15 340.09,113.15 340.63,113.16 C341.17,113.17 341.71,113.18 342.25,113.19 C342.79,113.20 343.32,113.20 343.86,113.20 C344.40,113.20 344.94,113.21 345.48,113.21 C346.02,113.21 346.56,113.22 347.10,113.22 C347.64,113.22 348.18,113.22 348.72,113.23 C349.26,113.23 349.80,113.23 350.34,113.24 C350.88,113.24 351.42,113.24 351.96,113.25 C352.50,113.25 353.04,113.25 353.58,113.25 C354.12,113.26 354.66,113.26 355.20,113.26 C355.74,113.27 356.27,113.27 356.81,113.27 C357.35,113.28 357.89,113.28 358.43,113.28 C358.97,113.28 359.51,113.29 360.05,113.29 C360.59,113.29 361.40,113.30 361.67,113.30" fill="none" stroke="#a78dd8" stroke-width="0.95"/>
<path d="M225.70,47.56 C225.97,46.76 226.77,44.41 227.31,42.79 C227.85,41.16 228.39,38.99 228.93,37.82 C229.47,36.65 230.01,36.42 230.55,35.78 C231.09,35.14 231.63,34.13 232.17,33.99 C232.71,33.85 233.25,34.59 233.79,34.94 C234.33,35.30 234.87,35.34 235.41,36.14 C235.95,36.93 236.49,38.48 237.03,39.70 C237.57,40.93 238.11,41.97 238.65,43.48 C239.19,44.98 239.72,46.95 240.26,48.71 C240.80,50.48 241.34,52.26 241.88,54.08 C242.42,55.89 242.96,57.77 243.50,59.62 C244.04,61.47 244.58,63.57 245.12,65.18 C245.66,66.79 246.20,67.94 246.74,69.28 C247.28,70.63 247.82,71.91 248.36,73.26 C248.90,74.60 249.44,75.96 249.98,77.34 C250.52,78.72 251.06,80.14 251.60,81.54 C252.14,82.93 252.67,84.33 253.21,85.73 C253.75,87.13 254.29,88.89 254.83,89.92 C255.37,90.96 255.91,91.30 256.45,91.93 C256.99,92.57 257.53,93.15 258.07,93.75 C258.61,94.36 259.15,94.97 259.69,95.58 C260.23,96.18 260.77,96.81 261.31,97.40 C261.85,97.99 262.39,98.67 262.93,99.11 C263.47,99.56 264.01,99.76 264.55,100.08 C265.09,100.40 265.62,100.72 266.16,101.04 C266.70,101.36 267.24,101.68 267.78,102.00 C268.32,102.32 268.86,102.64 269.40,102.96 C269.94,103.29 270.48,103.67 271.02,103.93 C271.56,104.19 272.10,104.33 272.64,104.52 C273.18,104.71 273.72,104.89 274.26,105.08 C274.80,105.27 275.34,105.45 275.88,105.64 C276.42,105.83 276.96,106.03 277.50,106.20 C278.04,106.37 278.57,106.53 279.11,106.67 C279.65,106.81 280.19,106.93 280.73,107.06 C281.27,107.19 281.81,107.32 282.35,107.45 C282.89,107.58 283.43,107.71 283.97,107.84 C284.51,107.96 285.05,108.09 285.59,108.22 C286.13,108.35 286.67,108.48 287.21,108.61 C287.75,108.74 288.29,108.87 288.83,109.00 C289.37,109.13 289.91,109.26 290.45,109.39 C290.99,109.52 291.52,109.66 292.06,109.78 C292.60,109.90 293.14,110.02 293.68,110.12 C294.22,110.21 294.76,110.27 295.30,110.35 C295.84,110.42 296.38,110.50 296.92,110.58 C297.46,110.65 298.00,110.73 298.54,110.81 C299.08,110.88 299.62,110.96 300.16,111.04 C300.70,111.11 301.24,111.19 301.78,111.27 C302.32,111.34 302.86,111.42 303.40,111.50 C303.94,111.57 304.47,111.67 305.01,111.73 C305.55,111.79 306.09,111.82 306.63,111.86 C307.17,111.90 307.71,111.92 308.25,111.95 C308.79,111.99 309.33,112.02 309.87,112.05 C310.41,112.08 310.95,112.11 311.49,112.15 C312.03,112.18 312.57,112.21 313.11,112.24 C313.65,112.27 314.19,112.31 314.73,112.34 C315.27,112.37 315.81,112.40 316.35,112.43 C316.89,112.46 317.42,112.50 317.96,112.53 C318.50,112.56 319.04,112.59 319.58,112.62 C320.12,112.66 320.66,112.69 321.20,112.72 C321.74,112.75 322.28,112.79 322.82,112.82 C323.36,112.84 323.90,112.84 324.44,112.85 C324.98,112.86 325.52,112.87 326.06,112.88 C326.60,112.89 327.14,112.90 327.68,112.91 C328.22,112.92 328.76,112.93 329.30,112.94 C329.84,112.95 330.37,112.96 330.91,112.97 C331.45,112.98 331.99,112.99 332.53,113.00 C333.07,113.01 333.61,113.02 334.15,113.03 C334.69,113.04 335.23,113.05 335.77,113.06 C336.31,113.07 336.85,113.08 337.39,113.09 C337.93,113.10 338.47,113.11 339.01,113.12 C339.55,113.13 340.09,113.14 340.63,113.15 C341.17,113.16 341.71,113.17 342.25,113.18 C342.79,113.19 343.32,113.19 343.86,113.19 C344.40,113.19 344.94,113.20 345.48,113.20 C346.02,113.20 346.56,113.21 347.10,113.21 C347.64,113.21 348.18,113.22 348.72,113.22 C349.26,113.22 349.80,113.23 350.34,113.23 C350.88,113.23 351.42,113.24 351.96,113.24 C352.50,113.24 353.04,113.25 353.58,113.25 C354.12,113.25 354.66,113.26 355.20,113.26 C355.74,113.26 356.27,113.27 356.81,113.27 C357.35,113.27 357.89,113.28 358.43,113.28 C358.97,113.28 359.51,113.29 360.05,113.29 C360.59,113.29 361.40,113.30 361.67,113.30" fill="none" stroke="#cba8e2" stroke-width="0.95"/>
</g>
<path d="M225.70,22.50 H362.40 V113.30" fill="none" stroke="#2e2e2e" stroke-width="1.10"/>
<path d="M225.70,22.50 V113.30 H362.40" fill="none" stroke="#2b2b2b" stroke-width="1.30"/>
<line x1="226.40" y1="113.30" x2="361.90" y2="113.30" stroke="#cc6a3a" stroke-width="1.2"/>
<line x1="222.20" y1="113.30" x2="225.70" y2="113.30" stroke="#2b2b2b" stroke-width="1.1"/>
<text x="221.40" y="113.30" font-size="7.40" font-weight="bold" text-anchor="end" dominant-baseline="central" fill="#111"  stroke="#111" stroke-width="0.28">0</text>
<line x1="222.20" y1="95.16" x2="225.70" y2="95.16" stroke="#2b2b2b" stroke-width="1.1"/>
<text x="221.40" y="95.16" font-size="7.40" font-weight="bold" text-anchor="end" dominant-baseline="central" fill="#111"  stroke="#111" stroke-width="0.28">50</text>
<line x1="222.20" y1="77.02" x2="225.70" y2="77.02" stroke="#2b2b2b" stroke-width="1.1"/>
<text x="221.40" y="77.02" font-size="7.40" font-weight="bold" text-anchor="end" dominant-baseline="central" fill="#111"  stroke="#111" stroke-width="0.28">100</text>
<line x1="222.20" y1="58.88" x2="225.70" y2="58.88" stroke="#2b2b2b" stroke-width="1.1"/>
<text x="221.40" y="58.88" font-size="7.40" font-weight="bold" text-anchor="end" dominant-baseline="central" fill="#111"  stroke="#111" stroke-width="0.28">150</text>
<line x1="222.20" y1="40.74" x2="225.70" y2="40.74" stroke="#2b2b2b" stroke-width="1.1"/>
<text x="221.40" y="40.74" font-size="7.40" font-weight="bold" text-anchor="end" dominant-baseline="central" fill="#111"  stroke="#111" stroke-width="0.28">200</text>
<line x1="222.20" y1="22.60" x2="225.70" y2="22.60" stroke="#2b2b2b" stroke-width="1.1"/>
<text x="221.40" y="22.60" font-size="7.40" font-weight="bold" text-anchor="end" dominant-baseline="central" fill="#111"  stroke="#111" stroke-width="0.28">250</text>
<line x1="232.30" y1="113.30" x2="232.30" y2="116.60" stroke="#2b2b2b" stroke-width="1.1"/>
<text x="232.30" y="121.70" font-size="7.40" font-weight="bold" text-anchor="middle" dominant-baseline="central" fill="#111"  stroke="#111" stroke-width="0.28">700</text>
<line x1="264.68" y1="113.30" x2="264.68" y2="116.60" stroke="#2b2b2b" stroke-width="1.1"/>
<text x="264.68" y="121.70" font-size="7.40" font-weight="bold" text-anchor="middle" dominant-baseline="central" fill="#111"  stroke="#111" stroke-width="0.28">750</text>
<line x1="297.05" y1="113.30" x2="297.05" y2="116.60" stroke="#2b2b2b" stroke-width="1.1"/>
<text x="297.05" y="121.70" font-size="7.40" font-weight="bold" text-anchor="middle" dominant-baseline="central" fill="#111"  stroke="#111" stroke-width="0.28">800</text>
<line x1="329.43" y1="113.30" x2="329.43" y2="116.60" stroke="#2b2b2b" stroke-width="1.1"/>
<text x="329.43" y="121.70" font-size="7.40" font-weight="bold" text-anchor="middle" dominant-baseline="central" fill="#111"  stroke="#111" stroke-width="0.28">850</text>
<line x1="361.80" y1="113.30" x2="361.80" y2="116.60" stroke="#2b2b2b" stroke-width="1.1"/>
<text x="361.80" y="121.70" font-size="7.40" font-weight="bold" text-anchor="middle" dominant-baseline="central" fill="#111"  stroke="#111" stroke-width="0.28">900</text>
<text transform="translate(191.00,62.50) rotate(-90)" x="0" y="0" font-size="7.60" font-weight="bold" text-anchor="middle" dominant-baseline="central" fill="#111" textLength="40.0" lengthAdjust="spacingAndGlyphs">FL Intensity</text>
<text transform="translate(201.00,62.80) rotate(-90)" x="0" y="0" font-size="7.60" font-weight="bold" text-anchor="middle" dominant-baseline="central" fill="#111" textLength="35.5" lengthAdjust="spacingAndGlyphs">(a.u. ×10<tspan font-size="5.0" dy="-1.1">4</tspan><tspan dy="1.1">)</tspan></text>
<text x="294.00" y="133.20" font-size="7.60" font-weight="bold" text-anchor="middle" dominant-baseline="central" fill="#111" textLength="58.5" lengthAdjust="spacingAndGlyphs"  stroke="#111" stroke-width="0.28">Wavelength (nm)</text>
<text x="326.10" y="44.80" font-size="7.00" font-weight="bold" text-anchor="middle" dominant-baseline="central" fill="#111" textLength="24.0" lengthAdjust="spacingAndGlyphs"  stroke="#111" stroke-width="0.28">100 µM</text>
<text x="328.10" y="80.30" font-size="7.00" font-weight="bold" text-anchor="middle" dominant-baseline="central" fill="#111" textLength="16.0" lengthAdjust="spacingAndGlyphs"  stroke="#111" stroke-width="0.28">0 µM</text>
<path d="M325.6,52.4 L328.2,59.2 L323.0,59.2 Z" fill="#111"/>
<line x1="325.6" y1="58" x2="325.6" y2="75.3" stroke="#333" stroke-width="0.9"/>
<text x="327.6" y="64.7" font-size="7" font-weight="bold" dominant-baseline="central" fill="#111">H<tspan font-size="5" dy="1.8">2</tspan><tspan dy="-1.8">O</tspan><tspan font-size="5" dy="1.8">2</tspan></text>
<text transform="translate(369.30,15.90) scale(1.100,1)" font-size="14.2" font-weight="bold" fill="#000" stroke="#000" stroke-width="0.05">C</text>
<line x1="411.20" y1="112.30" x2="538.40" y2="40.50" stroke="#f0402c" stroke-width="1.2"/>
<rect x="410.20" y="111.34" width="2" height="2" fill="#111"/>
<line x1="423.92" y1="105.58" x2="423.92" y2="104.51" stroke="#222" stroke-width="0.7"/>
<line x1="422.72" y1="104.51" x2="425.12" y2="104.51" stroke="#222" stroke-width="0.7"/>
<line x1="422.72" y1="105.58" x2="425.12" y2="105.58" stroke="#222" stroke-width="0.7"/>
<rect x="422.92" y="104.05" width="2" height="2" fill="#111"/>
<line x1="436.64" y1="97.93" x2="436.64" y2="96.86" stroke="#222" stroke-width="0.7"/>
<line x1="435.44" y1="96.86" x2="437.84" y2="96.86" stroke="#222" stroke-width="0.7"/>
<line x1="435.44" y1="97.93" x2="437.84" y2="97.93" stroke="#222" stroke-width="0.7"/>
<rect x="435.64" y="96.39" width="2" height="2" fill="#111"/>
<line x1="449.36" y1="89.20" x2="449.36" y2="87.07" stroke="#222" stroke-width="0.7"/>
<line x1="448.16" y1="87.07" x2="450.56" y2="87.07" stroke="#222" stroke-width="0.7"/>
<line x1="448.16" y1="89.20" x2="450.56" y2="89.20" stroke="#222" stroke-width="0.7"/>
<rect x="448.36" y="87.14" width="2" height="2" fill="#111"/>
<line x1="462.08" y1="84.40" x2="462.08" y2="81.55" stroke="#222" stroke-width="0.7"/>
<line x1="460.88" y1="81.55" x2="463.28" y2="81.55" stroke="#222" stroke-width="0.7"/>
<line x1="460.88" y1="84.40" x2="463.28" y2="84.40" stroke="#222" stroke-width="0.7"/>
<rect x="461.08" y="81.97" width="2" height="2" fill="#111"/>
<line x1="474.80" y1="76.03" x2="474.80" y2="74.61" stroke="#222" stroke-width="0.7"/>
<line x1="473.60" y1="74.61" x2="476.00" y2="74.61" stroke="#222" stroke-width="0.7"/>
<line x1="473.60" y1="76.03" x2="476.00" y2="76.03" stroke="#222" stroke-width="0.7"/>
<rect x="473.80" y="74.32" width="2" height="2" fill="#111"/>
<line x1="487.52" y1="70.69" x2="487.52" y2="66.42" stroke="#222" stroke-width="0.7"/>
<line x1="486.32" y1="66.42" x2="488.72" y2="66.42" stroke="#222" stroke-width="0.7"/>
<line x1="486.32" y1="70.69" x2="488.72" y2="70.69" stroke="#222" stroke-width="0.7"/>
<rect x="486.52" y="67.56" width="2" height="2" fill="#111"/>
<line x1="500.24" y1="61.61" x2="500.24" y2="59.48" stroke="#222" stroke-width="0.7"/>
<line x1="499.04" y1="59.48" x2="501.44" y2="59.48" stroke="#222" stroke-width="0.7"/>
<line x1="499.04" y1="61.61" x2="501.44" y2="61.61" stroke="#222" stroke-width="0.7"/>
<rect x="499.24" y="59.55" width="2" height="2" fill="#111"/>
<line x1="512.96" y1="60.01" x2="512.96" y2="55.03" stroke="#222" stroke-width="0.7"/>
<line x1="511.76" y1="55.03" x2="514.16" y2="55.03" stroke="#222" stroke-width="0.7"/>
<line x1="511.76" y1="60.01" x2="514.16" y2="60.01" stroke="#222" stroke-width="0.7"/>
<rect x="511.96" y="56.52" width="2" height="2" fill="#111"/>
<line x1="525.68" y1="49.33" x2="525.68" y2="45.06" stroke="#222" stroke-width="0.7"/>
<line x1="524.48" y1="45.06" x2="526.88" y2="45.06" stroke="#222" stroke-width="0.7"/>
<line x1="524.48" y1="49.33" x2="526.88" y2="49.33" stroke="#222" stroke-width="0.7"/>
<rect x="524.68" y="46.20" width="2" height="2" fill="#111"/>
<line x1="538.40" y1="44.35" x2="538.40" y2="38.65" stroke="#222" stroke-width="0.7"/>
<line x1="537.20" y1="38.65" x2="539.60" y2="38.65" stroke="#222" stroke-width="0.7"/>
<line x1="537.20" y1="44.35" x2="539.60" y2="44.35" stroke="#222" stroke-width="0.7"/>
<rect x="537.40" y="40.50" width="2" height="2" fill="#111"/>
<path d="M411.20,23.60 H545.00 V112.70" fill="none" stroke="#2e2e2e" stroke-width="1.10"/>
<path d="M411.20,23.60 V112.70 H545.00" fill="none" stroke="#2b2b2b" stroke-width="1.30"/>
<line x1="407.70" y1="112.70" x2="411.20" y2="112.70" stroke="#2b2b2b" stroke-width="1.1"/>
<text x="406.90" y="112.70" font-size="7.40" font-weight="bold" text-anchor="end" dominant-baseline="central" fill="#111"  stroke="#111" stroke-width="0.28">0</text>
<line x1="407.70" y1="94.90" x2="411.20" y2="94.90" stroke="#2b2b2b" stroke-width="1.1"/>
<text x="406.90" y="94.90" font-size="7.40" font-weight="bold" text-anchor="end" dominant-baseline="central" fill="#111"  stroke="#111" stroke-width="0.28">50</text>
<line x1="407.70" y1="77.10" x2="411.20" y2="77.10" stroke="#2b2b2b" stroke-width="1.1"/>
<text x="406.90" y="77.10" font-size="7.40" font-weight="bold" text-anchor="end" dominant-baseline="central" fill="#111"  stroke="#111" stroke-width="0.28">100</text>
<line x1="407.70" y1="59.30" x2="411.20" y2="59.30" stroke="#2b2b2b" stroke-width="1.1"/>
<text x="406.90" y="59.30" font-size="7.40" font-weight="bold" text-anchor="end" dominant-baseline="central" fill="#111"  stroke="#111" stroke-width="0.28">150</text>
<line x1="407.70" y1="41.50" x2="411.20" y2="41.50" stroke="#2b2b2b" stroke-width="1.1"/>
<text x="406.90" y="41.50" font-size="7.40" font-weight="bold" text-anchor="end" dominant-baseline="central" fill="#111"  stroke="#111" stroke-width="0.28">200</text>
<line x1="407.70" y1="23.70" x2="411.20" y2="23.70" stroke="#2b2b2b" stroke-width="1.1"/>
<text x="406.90" y="23.70" font-size="7.40" font-weight="bold" text-anchor="end" dominant-baseline="central" fill="#111"  stroke="#111" stroke-width="0.28">250</text>
<line x1="411.20" y1="112.70" x2="411.20" y2="116.00" stroke="#2b2b2b" stroke-width="1.1"/>
<text x="411.20" y="121.30" font-size="7.40" font-weight="bold" text-anchor="middle" dominant-baseline="central" fill="#111"  stroke="#111" stroke-width="0.28">0</text>
<line x1="443.00" y1="112.70" x2="443.00" y2="116.00" stroke="#2b2b2b" stroke-width="1.1"/>
<line x1="474.80" y1="112.70" x2="474.80" y2="116.00" stroke="#2b2b2b" stroke-width="1.1"/>
<text x="474.80" y="121.30" font-size="7.40" font-weight="bold" text-anchor="middle" dominant-baseline="central" fill="#111"  stroke="#111" stroke-width="0.28">50</text>
<line x1="506.60" y1="112.70" x2="506.60" y2="116.00" stroke="#2b2b2b" stroke-width="1.1"/>
<line x1="538.40" y1="112.70" x2="538.40" y2="116.00" stroke="#2b2b2b" stroke-width="1.1"/>
<text x="538.40" y="121.30" font-size="7.40" font-weight="bold" text-anchor="middle" dominant-baseline="central" fill="#111"  stroke="#111" stroke-width="0.28">100</text>
<text transform="translate(378.30,61.20) rotate(-90)" x="0" y="0" font-size="7.60" font-weight="bold" text-anchor="middle" dominant-baseline="central" fill="#111" textLength="39.5" lengthAdjust="spacingAndGlyphs">FL Intensity</text>
<text transform="translate(386.60,61.30) rotate(-90)" x="0" y="0" font-size="7.60" font-weight="bold" text-anchor="middle" dominant-baseline="central" fill="#111" textLength="36.5" lengthAdjust="spacingAndGlyphs">(a.u. ×10<tspan font-size="5.0" dy="-1.1">4</tspan><tspan dy="1.1">)</tspan></text>
<text x="478.20" y="134.10" font-size="7.60" font-weight="bold" text-anchor="middle" dominant-baseline="central" fill="#111" textLength="66.0" lengthAdjust="spacingAndGlyphs"  stroke="#111" stroke-width="0.28">Concentration (µM)</text>
<text x="429.90" y="35.30" font-size="5.90" font-weight="normal" text-anchor="start" dominant-baseline="central" fill="#1a1a1a" textLength="48.3" lengthAdjust="spacingAndGlyphs" stroke="#1a1a1a" stroke-width="0.1">Y=2.0728*X+0.9303</text>
<text x="429.90" y="42.00" font-size="5.90" font-weight="normal" text-anchor="start" dominant-baseline="central" fill="#1a1a1a" textLength="3.6" lengthAdjust="spacingAndGlyphs" stroke="#1a1a1a" stroke-width="0.1">R</text>
<text x="433.30" y="39.60" font-size="3.90" font-weight="normal" text-anchor="start" dominant-baseline="central" fill="#1a1a1a" stroke="#1a1a1a" stroke-width="0.08">2</text>
<text x="435.10" y="42.00" font-size="5.90" font-weight="normal" text-anchor="start" dominant-baseline="central" fill="#1a1a1a" textLength="20.2" lengthAdjust="spacingAndGlyphs" stroke="#1a1a1a" stroke-width="0.1">=0.9928</text>
<text transform="translate(5.50,144.70) scale(1.050,1)" font-size="14.2" font-weight="bold" fill="#000" stroke="#000" stroke-width="0.05">D</text>
<polyline points="57.40,226.73 69.69,224.04 81.98,220.75 94.27,218.36 106.56,214.59 118.85,208.19 131.14,198.63 143.43,204.85 155.72,211.00 168.01,213.82" fill="none" stroke="#f4706a" stroke-width="0.9"/>
<line x1="57.40" y1="227.21" x2="57.40" y2="226.25" stroke="#f25a50" stroke-width="0.8"/>
<line x1="56.10" y1="226.25" x2="58.70" y2="226.25" stroke="#f25a50" stroke-width="0.8"/>
<line x1="56.10" y1="227.21" x2="58.70" y2="227.21" stroke="#f25a50" stroke-width="0.8"/>
<circle cx="57.40" cy="226.73" r="1.3" fill="#f0483c"/>
<line x1="69.69" y1="224.64" x2="69.69" y2="223.44" stroke="#f25a50" stroke-width="0.8"/>
<line x1="68.39" y1="223.44" x2="70.99" y2="223.44" stroke="#f25a50" stroke-width="0.8"/>
<line x1="68.39" y1="224.64" x2="70.99" y2="224.64" stroke="#f25a50" stroke-width="0.8"/>
<circle cx="69.69" cy="224.04" r="1.3" fill="#f0483c"/>
<line x1="81.98" y1="221.35" x2="81.98" y2="220.15" stroke="#f25a50" stroke-width="0.8"/>
<line x1="80.68" y1="220.15" x2="83.28" y2="220.15" stroke="#f25a50" stroke-width="0.8"/>
<line x1="80.68" y1="221.35" x2="83.28" y2="221.35" stroke="#f25a50" stroke-width="0.8"/>
<circle cx="81.98" cy="220.75" r="1.3" fill="#f0483c"/>
<line x1="94.27" y1="219.56" x2="94.27" y2="217.16" stroke="#f25a50" stroke-width="0.8"/>
<line x1="92.97" y1="217.16" x2="95.57" y2="217.16" stroke="#f25a50" stroke-width="0.8"/>
<line x1="92.97" y1="219.56" x2="95.57" y2="219.56" stroke="#f25a50" stroke-width="0.8"/>
<circle cx="94.27" cy="218.36" r="1.3" fill="#f0483c"/>
<line x1="106.56" y1="215.19" x2="106.56" y2="213.99" stroke="#f25a50" stroke-width="0.8"/>
<line x1="105.26" y1="213.99" x2="107.86" y2="213.99" stroke="#f25a50" stroke-width="0.8"/>
<line x1="105.26" y1="215.19" x2="107.86" y2="215.19" stroke="#f25a50" stroke-width="0.8"/>
<circle cx="106.56" cy="214.59" r="1.3" fill="#f0483c"/>
<line x1="118.85" y1="209.99" x2="118.85" y2="206.40" stroke="#f25a50" stroke-width="0.8"/>
<line x1="117.55" y1="206.40" x2="120.15" y2="206.40" stroke="#f25a50" stroke-width="0.8"/>
<line x1="117.55" y1="209.99" x2="120.15" y2="209.99" stroke="#f25a50" stroke-width="0.8"/>
<circle cx="118.85" cy="208.19" r="1.3" fill="#f0483c"/>
<line x1="131.14" y1="199.52" x2="131.14" y2="197.73" stroke="#f25a50" stroke-width="0.8"/>
<line x1="129.84" y1="197.73" x2="132.44" y2="197.73" stroke="#f25a50" stroke-width="0.8"/>
<line x1="129.84" y1="199.52" x2="132.44" y2="199.52" stroke="#f25a50" stroke-width="0.8"/>
<circle cx="131.14" cy="198.63" r="1.3" fill="#f0483c"/>
<line x1="143.43" y1="206.34" x2="143.43" y2="203.35" stroke="#f25a50" stroke-width="0.8"/>
<line x1="142.13" y1="203.35" x2="144.73" y2="203.35" stroke="#f25a50" stroke-width="0.8"/>
<line x1="142.13" y1="206.34" x2="144.73" y2="206.34" stroke="#f25a50" stroke-width="0.8"/>
<circle cx="143.43" cy="204.85" r="1.3" fill="#f0483c"/>
<line x1="155.72" y1="211.90" x2="155.72" y2="210.11" stroke="#f25a50" stroke-width="0.8"/>
<line x1="154.42" y1="210.11" x2="157.02" y2="210.11" stroke="#f25a50" stroke-width="0.8"/>
<line x1="154.42" y1="211.90" x2="157.02" y2="211.90" stroke="#f25a50" stroke-width="0.8"/>
<circle cx="155.72" cy="211.00" r="1.3" fill="#f0483c"/>
<line x1="168.01" y1="216.21" x2="168.01" y2="211.42" stroke="#f25a50" stroke-width="0.8"/>
<line x1="166.71" y1="211.42" x2="169.31" y2="211.42" stroke="#f25a50" stroke-width="0.8"/>
<line x1="166.71" y1="216.21" x2="169.31" y2="216.21" stroke="#f25a50" stroke-width="0.8"/>
<circle cx="168.01" cy="213.82" r="1.3" fill="#f0483c"/>
<path d="M45.00,146.60 H180.40 V236.30" fill="none" stroke="#2e2e2e" stroke-width="1.10"/>
<path d="M45.00,146.60 V236.30 H180.40" fill="none" stroke="#2b2b2b" stroke-width="1.30"/>
<line x1="41.50" y1="236.30" x2="45.00" y2="236.30" stroke="#2b2b2b" stroke-width="1.1"/>
<text x="40.70" y="236.30" font-size="6.70" font-weight="bold" text-anchor="end" dominant-baseline="central" fill="#111"  stroke="#111" stroke-width="0.28">0</text>
<line x1="41.50" y1="206.40" x2="45.00" y2="206.40" stroke="#2b2b2b" stroke-width="1.1"/>
<text x="40.70" y="206.40" font-size="6.70" font-weight="bold" text-anchor="end" dominant-baseline="central" fill="#111"  stroke="#111" stroke-width="0.28">50</text>
<line x1="41.50" y1="176.50" x2="45.00" y2="176.50" stroke="#2b2b2b" stroke-width="1.1"/>
<text x="40.70" y="176.50" font-size="6.70" font-weight="bold" text-anchor="end" dominant-baseline="central" fill="#111"  stroke="#111" stroke-width="0.28">100</text>
<line x1="41.50" y1="146.60" x2="45.00" y2="146.60" stroke="#2b2b2b" stroke-width="1.1"/>
<text x="40.70" y="146.60" font-size="6.70" font-weight="bold" text-anchor="end" dominant-baseline="central" fill="#111"  stroke="#111" stroke-width="0.28">150</text>
<line x1="57.40" y1="236.30" x2="57.40" y2="239.60" stroke="#2b2b2b" stroke-width="1.1"/>
<text x="57.40" y="244.60" font-size="7.00" font-weight="bold" text-anchor="middle" dominant-baseline="central" fill="#111"  stroke="#111" stroke-width="0.28">4</text>
<line x1="81.98" y1="236.30" x2="81.98" y2="239.60" stroke="#2b2b2b" stroke-width="1.1"/>
<text x="81.98" y="244.60" font-size="7.00" font-weight="bold" text-anchor="middle" dominant-baseline="central" fill="#111"  stroke="#111" stroke-width="0.28">5</text>
<line x1="106.56" y1="236.30" x2="106.56" y2="239.60" stroke="#2b2b2b" stroke-width="1.1"/>
<text x="106.56" y="244.60" font-size="7.00" font-weight="bold" text-anchor="middle" dominant-baseline="central" fill="#111"  stroke="#111" stroke-width="0.28">6</text>
<line x1="131.14" y1="236.30" x2="131.14" y2="239.60" stroke="#2b2b2b" stroke-width="1.1"/>
<text x="131.14" y="244.60" font-size="7.00" font-weight="bold" text-anchor="middle" dominant-baseline="central" fill="#111"  stroke="#111" stroke-width="0.28">7</text>
<line x1="155.72" y1="236.30" x2="155.72" y2="239.60" stroke="#2b2b2b" stroke-width="1.1"/>
<text x="155.72" y="244.60" font-size="7.00" font-weight="bold" text-anchor="middle" dominant-baseline="central" fill="#111"  stroke="#111" stroke-width="0.28">8</text>
<line x1="180.30" y1="236.30" x2="180.30" y2="239.60" stroke="#2b2b2b" stroke-width="1.1"/>
<text x="180.30" y="244.60" font-size="7.00" font-weight="bold" text-anchor="middle" dominant-baseline="central" fill="#111"  stroke="#111" stroke-width="0.28">9</text>
<text transform="translate(21.00,191.90) rotate(-90)" x="0" y="0" font-size="8.10" font-weight="bold" text-anchor="middle" dominant-baseline="central" fill="#111" textLength="94.5" lengthAdjust="spacingAndGlyphs">Fluorescence Intensity(a.u.)</text>
<text x="113.20" y="255.90" font-size="7.60" font-weight="bold" text-anchor="middle" dominant-baseline="central" fill="#111"  stroke="#111" stroke-width="0.28">pH</text>
<text transform="translate(185.10,144.30) scale(1.050,1)" font-size="14.2" font-weight="bold" fill="#000" stroke="#000" stroke-width="0.05">E</text>
<line x1="232.20" y1="234.10" x2="232.20" y2="232.30" stroke="#4e8a47" stroke-width="0.8" opacity="0.75"/>
<line x1="229.90" y1="232.30" x2="234.50" y2="232.30" stroke="#4e8a47" stroke-width="0.8" opacity="0.75"/>
<rect x="227.00" y="234.10" width="10.4" height="4.70" fill="#4e8a47"/>
<line x1="245.84" y1="182.00" x2="245.84" y2="179.10" stroke="#f5584b" stroke-width="0.8" opacity="0.75"/>
<line x1="243.54" y1="179.10" x2="248.14" y2="179.10" stroke="#f5584b" stroke-width="0.8" opacity="0.75"/>
<rect x="240.64" y="182.00" width="10.4" height="56.80" fill="#f5584b"/>
<line x1="259.48" y1="230.90" x2="259.48" y2="229.40" stroke="#3b2279" stroke-width="0.8" opacity="0.75"/>
<line x1="257.18" y1="229.40" x2="261.78" y2="229.40" stroke="#3b2279" stroke-width="0.8" opacity="0.75"/>
<rect x="254.28" y="230.90" width="10.4" height="7.90" fill="#3b2279"/>
<line x1="273.12" y1="226.70" x2="273.12" y2="225.30" stroke="#88a3d3" stroke-width="0.8" opacity="0.75"/>
<line x1="270.82" y1="225.30" x2="275.42" y2="225.30" stroke="#88a3d3" stroke-width="0.8" opacity="0.75"/>
<rect x="267.92" y="226.70" width="10.4" height="12.10" fill="#88a3d3"/>
<line x1="286.76" y1="228.10" x2="286.76" y2="227.60" stroke="#b04d8a" stroke-width="0.8" opacity="0.75"/>
<line x1="284.46" y1="227.60" x2="289.06" y2="227.60" stroke="#b04d8a" stroke-width="0.8" opacity="0.75"/>
<rect x="281.56" y="228.10" width="10.4" height="10.70" fill="#b04d8a"/>
<line x1="300.40" y1="231.90" x2="300.40" y2="230.40" stroke="#f48898" stroke-width="0.8" opacity="0.75"/>
<line x1="298.10" y1="230.40" x2="302.70" y2="230.40" stroke="#f48898" stroke-width="0.8" opacity="0.75"/>
<rect x="295.20" y="231.90" width="10.4" height="6.90" fill="#f48898"/>
<line x1="314.04" y1="228.10" x2="314.04" y2="225.70" stroke="#f3c3b2" stroke-width="0.8" opacity="0.75"/>
<line x1="311.74" y1="225.70" x2="316.34" y2="225.70" stroke="#f3c3b2" stroke-width="0.8" opacity="0.75"/>
<rect x="308.84" y="228.10" width="10.4" height="10.70" fill="#f3c3b2"/>
<line x1="327.68" y1="232.90" x2="327.68" y2="230.40" stroke="#16457f" stroke-width="0.8" opacity="0.75"/>
<line x1="325.38" y1="230.40" x2="329.98" y2="230.40" stroke="#16457f" stroke-width="0.8" opacity="0.75"/>
<rect x="322.48" y="232.90" width="10.4" height="5.90" fill="#16457f"/>
<line x1="341.32" y1="231.70" x2="341.32" y2="230.00" stroke="#e28ac4" stroke-width="0.8" opacity="0.75"/>
<line x1="339.02" y1="230.00" x2="343.62" y2="230.00" stroke="#e28ac4" stroke-width="0.8" opacity="0.75"/>
<rect x="336.12" y="231.70" width="10.4" height="7.10" fill="#e28ac4"/>
<line x1="354.96" y1="229.10" x2="354.96" y2="225.10" stroke="#f8c644" stroke-width="0.8" opacity="0.75"/>
<line x1="352.66" y1="225.10" x2="357.26" y2="225.10" stroke="#f8c644" stroke-width="0.8" opacity="0.75"/>
<rect x="349.76" y="229.10" width="10.4" height="9.70" fill="#f8c644"/>
<path d="M223.20,145.00 H363.50 V238.80" fill="none" stroke="#2e2e2e" stroke-width="1.10"/>
<path d="M223.20,145.00 V238.80 H363.50" fill="none" stroke="#2b2b2b" stroke-width="1.30"/>
<line x1="219.70" y1="238.80" x2="223.20" y2="238.80" stroke="#2b2b2b" stroke-width="1.1"/>
<text x="218.90" y="238.80" font-size="7.80" font-weight="bold" text-anchor="end" dominant-baseline="central" fill="#111"  stroke="#111" stroke-width="0.28">0</text>
<line x1="219.70" y1="207.54" x2="223.20" y2="207.54" stroke="#2b2b2b" stroke-width="1.1"/>
<text x="218.90" y="207.54" font-size="7.80" font-weight="bold" text-anchor="end" dominant-baseline="central" fill="#111"  stroke="#111" stroke-width="0.28">50</text>
<line x1="219.70" y1="176.27" x2="223.20" y2="176.27" stroke="#2b2b2b" stroke-width="1.1"/>
<text x="218.90" y="176.27" font-size="7.80" font-weight="bold" text-anchor="end" dominant-baseline="central" fill="#111"  stroke="#111" stroke-width="0.28">100</text>
<line x1="219.70" y1="145.00" x2="223.20" y2="145.00" stroke="#2b2b2b" stroke-width="1.1"/>
<text x="218.90" y="145.00" font-size="7.80" font-weight="bold" text-anchor="end" dominant-baseline="central" fill="#111"  stroke="#111" stroke-width="0.28">150</text>
<line x1="232.20" y1="238.80" x2="232.20" y2="242.40" stroke="#2b2b2b" stroke-width="1.1"/>
<text x="232.20" y="247.70" font-size="7.80" font-weight="bold" text-anchor="middle" dominant-baseline="central" fill="#111"  stroke="#111" stroke-width="0.28">1</text>
<line x1="245.84" y1="238.80" x2="245.84" y2="242.40" stroke="#2b2b2b" stroke-width="1.1"/>
<text x="245.84" y="247.70" font-size="7.80" font-weight="bold" text-anchor="middle" dominant-baseline="central" fill="#111"  stroke="#111" stroke-width="0.28">2</text>
<line x1="259.48" y1="238.80" x2="259.48" y2="242.40" stroke="#2b2b2b" stroke-width="1.1"/>
<text x="259.48" y="247.70" font-size="7.80" font-weight="bold" text-anchor="middle" dominant-baseline="central" fill="#111"  stroke="#111" stroke-width="0.28">3</text>
<line x1="273.12" y1="238.80" x2="273.12" y2="242.40" stroke="#2b2b2b" stroke-width="1.1"/>
<text x="273.12" y="247.70" font-size="7.80" font-weight="bold" text-anchor="middle" dominant-baseline="central" fill="#111"  stroke="#111" stroke-width="0.28">4</text>
<line x1="286.76" y1="238.80" x2="286.76" y2="242.40" stroke="#2b2b2b" stroke-width="1.1"/>
<text x="286.76" y="247.70" font-size="7.80" font-weight="bold" text-anchor="middle" dominant-baseline="central" fill="#111"  stroke="#111" stroke-width="0.28">5</text>
<line x1="300.40" y1="238.80" x2="300.40" y2="242.40" stroke="#2b2b2b" stroke-width="1.1"/>
<text x="300.40" y="247.70" font-size="7.80" font-weight="bold" text-anchor="middle" dominant-baseline="central" fill="#111"  stroke="#111" stroke-width="0.28">6</text>
<line x1="314.04" y1="238.80" x2="314.04" y2="242.40" stroke="#2b2b2b" stroke-width="1.1"/>
<text x="314.04" y="247.70" font-size="7.80" font-weight="bold" text-anchor="middle" dominant-baseline="central" fill="#111"  stroke="#111" stroke-width="0.28">7</text>
<line x1="327.68" y1="238.80" x2="327.68" y2="242.40" stroke="#2b2b2b" stroke-width="1.1"/>
<text x="327.68" y="247.70" font-size="7.80" font-weight="bold" text-anchor="middle" dominant-baseline="central" fill="#111"  stroke="#111" stroke-width="0.28">8</text>
<line x1="341.32" y1="238.80" x2="341.32" y2="242.40" stroke="#2b2b2b" stroke-width="1.1"/>
<text x="341.32" y="247.70" font-size="7.80" font-weight="bold" text-anchor="middle" dominant-baseline="central" fill="#111"  stroke="#111" stroke-width="0.28">9</text>
<line x1="354.96" y1="238.80" x2="354.96" y2="242.40" stroke="#2b2b2b" stroke-width="1.1"/>
<text x="354.96" y="247.70" font-size="7.80" font-weight="bold" text-anchor="middle" dominant-baseline="central" fill="#111"  stroke="#111" stroke-width="0.28">10</text>
<text transform="translate(195.60,191.90) rotate(-90)" x="0" y="0" font-size="7.90" font-weight="bold" text-anchor="middle" dominant-baseline="central" fill="#111" textLength="61.5" lengthAdjust="spacingAndGlyphs">FL Intensity (a.u.)</text>
<text transform="translate(372.40,144.30) scale(1.050,1)" font-size="14.2" font-weight="bold" fill="#000" stroke="#000" stroke-width="0.05">F</text>
<line x1="429.80" y1="222.70" x2="429.80" y2="217.40" stroke="#f5594b" stroke-width="0.8"/>
<line x1="426.80" y1="217.40" x2="432.80" y2="217.40" stroke="#f5594b" stroke-width="0.8"/>
<rect x="422.50" y="222.70" width="14.6" height="13.60" fill="#f5594b"/>
<line x1="449.72" y1="203.30" x2="449.72" y2="201.10" stroke="#f5594b" stroke-width="0.8"/>
<line x1="446.72" y1="201.10" x2="452.72" y2="201.10" stroke="#f5594b" stroke-width="0.8"/>
<rect x="442.42" y="203.30" width="14.6" height="33.00" fill="#f5594b"/>
<line x1="469.64" y1="191.80" x2="469.64" y2="188.10" stroke="#f5594b" stroke-width="0.8"/>
<line x1="466.64" y1="188.10" x2="472.64" y2="188.10" stroke="#f5594b" stroke-width="0.8"/>
<rect x="462.34" y="191.80" width="14.6" height="44.50" fill="#f5594b"/>
<line x1="489.56" y1="188.10" x2="489.56" y2="187.20" stroke="#f9aaa2" stroke-width="0.8"/>
<line x1="486.56" y1="187.20" x2="492.56" y2="187.20" stroke="#f9aaa2" stroke-width="0.8"/>
<rect x="482.26" y="188.10" width="14.6" height="48.20" fill="#f5594b"/>
<line x1="509.48" y1="184.00" x2="509.48" y2="183.20" stroke="#f9aaa2" stroke-width="0.8"/>
<line x1="506.48" y1="183.20" x2="512.48" y2="183.20" stroke="#f9aaa2" stroke-width="0.8"/>
<rect x="502.18" y="184.00" width="14.6" height="52.30" fill="#f5594b"/>
<line x1="529.40" y1="175.80" x2="529.40" y2="175.00" stroke="#f9aaa2" stroke-width="0.8"/>
<line x1="526.40" y1="175.00" x2="532.40" y2="175.00" stroke="#f9aaa2" stroke-width="0.8"/>
<rect x="522.10" y="175.80" width="14.6" height="60.50" fill="#f5594b"/>
<path d="M416.60,151.80 H542.80 V236.30" fill="none" stroke="#2e2e2e" stroke-width="1.10"/>
<path d="M416.60,151.80 V236.30 H542.80" fill="none" stroke="#2b2b2b" stroke-width="1.30"/>
<line x1="413.60" y1="236.30" x2="416.60" y2="236.30" stroke="#2b2b2b" stroke-width="1.1"/>
<text x="411.3" y="236.70" font-size="6.5" font-weight="bold" text-anchor="end" dominant-baseline="central" fill="#111" stroke="#111" stroke-width="0.15">1.0×10<tspan font-size="4.5" dy="-2">7</tspan></text>
<line x1="413.60" y1="208.13" x2="416.60" y2="208.13" stroke="#2b2b2b" stroke-width="1.1"/>
<text x="411.3" y="208.53" font-size="6.5" font-weight="bold" text-anchor="end" dominant-baseline="central" fill="#111" stroke="#111" stroke-width="0.15">1.5×10<tspan font-size="4.5" dy="-2">7</tspan></text>
<line x1="413.60" y1="179.96" x2="416.60" y2="179.96" stroke="#2b2b2b" stroke-width="1.1"/>
<text x="411.3" y="180.36" font-size="6.5" font-weight="bold" text-anchor="end" dominant-baseline="central" fill="#111" stroke="#111" stroke-width="0.15">2.0×10<tspan font-size="4.5" dy="-2">7</tspan></text>
<line x1="413.60" y1="151.79" x2="416.60" y2="151.79" stroke="#2b2b2b" stroke-width="1.1"/>
<text x="411.3" y="152.19" font-size="6.5" font-weight="bold" text-anchor="end" dominant-baseline="central" fill="#111" stroke="#111" stroke-width="0.15">2.5×10<tspan font-size="4.5" dy="-2">7</tspan></text>
<line x1="429.80" y1="236.30" x2="429.80" y2="239.60" stroke="#2b2b2b" stroke-width="1.1"/>
<text x="429.80" y="244.20" font-size="6.60" font-weight="bold" text-anchor="middle" dominant-baseline="central" fill="#111"  stroke="#111" stroke-width="0.28">0</text>
<line x1="449.72" y1="236.30" x2="449.72" y2="239.60" stroke="#2b2b2b" stroke-width="1.1"/>
<text x="449.72" y="244.20" font-size="6.60" font-weight="bold" text-anchor="middle" dominant-baseline="central" fill="#111"  stroke="#111" stroke-width="0.28">10</text>
<line x1="469.64" y1="236.30" x2="469.64" y2="239.60" stroke="#2b2b2b" stroke-width="1.1"/>
<text x="469.64" y="244.20" font-size="6.60" font-weight="bold" text-anchor="middle" dominant-baseline="central" fill="#111"  stroke="#111" stroke-width="0.28">20</text>
<line x1="489.56" y1="236.30" x2="489.56" y2="239.60" stroke="#2b2b2b" stroke-width="1.1"/>
<text x="489.56" y="244.20" font-size="6.60" font-weight="bold" text-anchor="middle" dominant-baseline="central" fill="#111"  stroke="#111" stroke-width="0.28">30</text>
<line x1="509.48" y1="236.30" x2="509.48" y2="239.60" stroke="#2b2b2b" stroke-width="1.1"/>
<text x="509.48" y="244.20" font-size="6.60" font-weight="bold" text-anchor="middle" dominant-baseline="central" fill="#111"  stroke="#111" stroke-width="0.28">40</text>
<line x1="529.40" y1="236.30" x2="529.40" y2="239.60" stroke="#2b2b2b" stroke-width="1.1"/>
<text x="529.40" y="244.20" font-size="6.60" font-weight="bold" text-anchor="middle" dominant-baseline="central" fill="#111"  stroke="#111" stroke-width="0.28">50</text>
<text transform="translate(382.20,192.60) rotate(-90)" x="0" y="0" font-size="8.20" font-weight="bold" text-anchor="middle" dominant-baseline="central" fill="#111" textLength="89.5" lengthAdjust="spacingAndGlyphs">Fluorescence Intensity(a.u.)</text>
<text x="479.50" y="254.20" font-size="7.60" font-weight="bold" text-anchor="middle" dominant-baseline="central" fill="#111" textLength="61.5" lengthAdjust="spacingAndGlyphs"  stroke="#111" stroke-width="0.28">Concentration (µM)</text>
<text x="422.9" y="157" font-size="5.2" dominant-baseline="central" fill="#333" textLength="10" lengthAdjust="spacingAndGlyphs">Con.</text>
<defs><linearGradient id="ga" x1="0" x2="1"><stop offset="0" stop-color="#e4e4e4"/><stop offset="0.7" stop-color="#b0b0b0"/><stop offset="1" stop-color="#303030"/></linearGradient>
<linearGradient id="gc" x1="0" x2="1"><stop offset="0" stop-color="#1a1a80"/><stop offset="0.18" stop-color="#1040d0"/><stop offset="0.36" stop-color="#10b0e0"/><stop offset="0.55" stop-color="#30b030"/><stop offset="0.75" stop-color="#f0e010"/><stop offset="1" stop-color="#e01818"/></linearGradient>
<radialGradient id="r0"><stop offset="0.00" stop-color="#3aa0e8"/><stop offset="0.35" stop-color="#2878e0"/><stop offset="0.70" stop-color="#1a50d0"/><stop offset="1.00" stop-color="#1a3aa8"/></radialGradient>
<radialGradient id="r1"><stop offset="0.00" stop-color="#40c040"/><stop offset="0.35" stop-color="#48c048"/><stop offset="0.52" stop-color="#20b0c0"/><stop offset="0.68" stop-color="#1a60e0"/><stop offset="0.90" stop-color="#1a44d0"/><stop offset="1.00" stop-color="#1a3a9a"/></radialGradient>
<radialGradient id="r2"><stop offset="0.00" stop-color="#f0f020"/><stop offset="0.22" stop-color="#a0d840"/><stop offset="0.45" stop-color="#40c060"/><stop offset="0.60" stop-color="#20a8d0"/><stop offset="0.75" stop-color="#1a58e0"/><stop offset="1.00" stop-color="#1a3a9a"/></radialGradient>
<radialGradient id="r3"><stop offset="0.00" stop-color="#e01818"/><stop offset="0.20" stop-color="#f03820"/><stop offset="0.40" stop-color="#f0d020"/><stop offset="0.58" stop-color="#60c840"/><stop offset="0.75" stop-color="#20b0d8"/><stop offset="0.90" stop-color="#1a48d8"/><stop offset="1.00" stop-color="#1a3a9a"/></radialGradient>
<radialGradient id="r4"><stop offset="0.00" stop-color="#e01818"/><stop offset="0.22" stop-color="#f05020"/><stop offset="0.42" stop-color="#f0d820"/><stop offset="0.60" stop-color="#50c850"/><stop offset="0.76" stop-color="#20a8e0"/><stop offset="0.92" stop-color="#1a48d0"/><stop offset="1.00" stop-color="#1a3a9a"/></radialGradient>
<radialGradient id="r5"><stop offset="0.00" stop-color="#e00010"/><stop offset="0.35" stop-color="#f02810"/><stop offset="0.52" stop-color="#f0e020"/><stop offset="0.70" stop-color="#40c040"/><stop offset="0.85" stop-color="#2080e0"/><stop offset="1.00" stop-color="#1a40c0"/></radialGradient>
<radialGradient id="well"><stop offset="0" stop-color="#777"/><stop offset="0.75" stop-color="#7a7a7a"/><stop offset="0.9" stop-color="#9a9a9a"/><stop offset="1" stop-color="#6c6c6c"/></radialGradient>
</defs>
<rect x="435" y="156.3" width="25.5" height="0.9" fill="url(#ga)"/>
<path d="M463.0,156.8 L459.6,155.0 L459.6,158.6 Z" fill="#222"/>
<rect x="419.4" y="160.2" width="69.3" height="11.4" fill="#6a6a6a"/>
<rect x="419.65" y="160.45" width="68.8" height="10.9" fill="none" stroke="#4a4a4a" stroke-width="0.5"/>
<circle cx="424.10" cy="165.9" r="5.0" fill="url(#well)"/>
<circle cx="424.10" cy="165.9" r="3.60" fill="url(#r0)"/>
<circle cx="436.10" cy="165.9" r="5.0" fill="url(#well)"/>
<circle cx="436.10" cy="165.9" r="3.90" fill="url(#r1)"/>
<circle cx="447.90" cy="165.9" r="5.0" fill="url(#well)"/>
<circle cx="447.90" cy="165.9" r="3.90" fill="url(#r2)"/>
<circle cx="460.00" cy="165.9" r="5.0" fill="url(#well)"/>
<circle cx="460.00" cy="165.9" r="3.90" fill="url(#r3)"/>
<circle cx="471.60" cy="165.9" r="5.0" fill="url(#well)"/>
<circle cx="471.60" cy="165.9" r="3.90" fill="url(#r4)"/>
<circle cx="483.30" cy="165.9" r="5.0" fill="url(#well)"/>
<circle cx="483.30" cy="165.9" r="3.90" fill="url(#r5)"/>
<text x="419.4" y="175.0" font-size="4.4" dominant-baseline="central" fill="#555" textLength="7.8" lengthAdjust="spacingAndGlyphs">Low</text>
<rect x="427.9" y="174.3" width="52.2" height="1.5" fill="url(#gc)"/>
<text x="480.6" y="175.0" font-size="4.4" dominant-baseline="central" fill="#444" textLength="9.8" lengthAdjust="spacingAndGlyphs">High</text>
</svg></body></html>
